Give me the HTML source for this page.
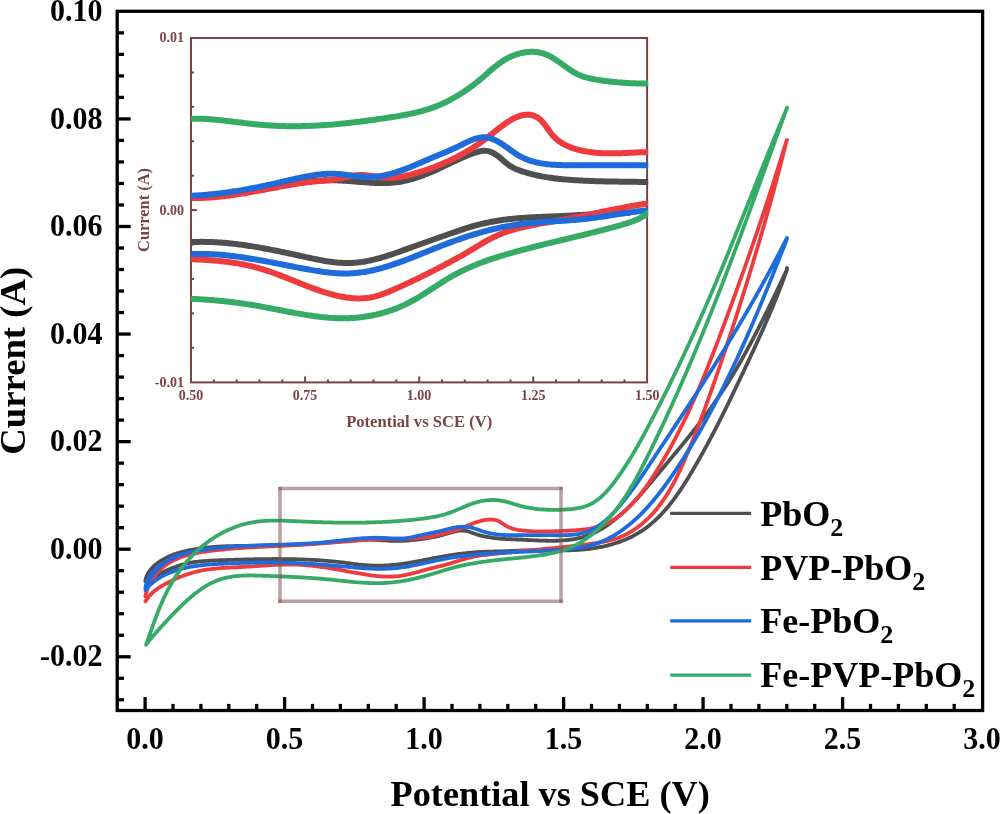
<!DOCTYPE html>
<html><head><meta charset="utf-8"><style>
html,body{margin:0;padding:0;background:#fff;width:1000px;height:814px;overflow:hidden}
svg{display:block;font-family:"Liberation Serif",serif;will-change:transform}
</style></head><body>
<svg width="1000" height="814" viewBox="0 0 1000 814">
<defs><clipPath id="ic"><rect x="191" y="37" width="457.2" height="346.4"/></clipPath></defs>
<rect width="1000" height="814" fill="#fff"/>
<path d="M145.40,580.50 L145.72,579.00 L146.13,577.56 L146.65,576.15 L147.26,574.80 L147.95,573.48 L148.72,572.21 L149.56,570.98 L150.47,569.79 L151.44,568.65 L152.47,567.54 L153.55,566.48 L154.68,565.45 L155.84,564.47 L157.04,563.52 L158.26,562.61 L159.51,561.74 L160.77,560.91 L162.05,560.11 L163.35,559.35 L164.66,558.62 L165.99,557.93 L167.34,557.26 L168.69,556.63 L170.06,556.03 L171.45,555.45 L172.84,554.90 L174.25,554.38 L175.66,553.89 L177.08,553.42 L178.52,552.97 L179.96,552.54 L181.40,552.14 L182.86,551.75 L184.32,551.39 L185.78,551.04 L187.25,550.71 L188.72,550.40 L190.19,550.10 L191.66,549.81 L193.14,549.54 L194.62,549.28 L196.10,549.03 L197.58,548.80 L199.06,548.58 L200.55,548.37 L202.03,548.17 L203.52,547.98 L205.01,547.80 L206.50,547.64 L207.99,547.48 L209.48,547.33 L210.98,547.20 L212.47,547.07 L213.97,546.95 L215.47,546.84 L216.96,546.73 L218.46,546.64 L219.96,546.55 L221.46,546.47 L222.97,546.40 L224.47,546.33 L225.97,546.27 L227.48,546.21 L228.98,546.16 L230.49,546.11 L231.99,546.07 L233.50,546.04 L235.01,546.01 L236.51,545.98 L238.02,545.95 L239.53,545.93 L241.04,545.91 L242.55,545.89 L244.05,545.88 L245.56,545.87 L247.07,545.85 L248.58,545.84 L250.09,545.83 L251.60,545.82 L253.11,545.81 L254.62,545.80 L256.13,545.79 L257.64,545.78 L259.14,545.77 L260.65,545.76 L262.16,545.74 L263.67,545.72 L265.17,545.70 L266.68,545.68 L268.19,545.65 L269.69,545.62 L271.20,545.59 L272.70,545.55 L274.21,545.51 L275.71,545.47 L277.21,545.43 L278.72,545.38 L280.22,545.33 L281.72,545.28 L283.22,545.22 L284.73,545.17 L286.23,545.11 L287.73,545.04 L289.23,544.98 L290.73,544.91 L292.23,544.84 L293.73,544.77 L295.23,544.70 L296.73,544.62 L298.23,544.54 L299.73,544.46 L301.23,544.37 L302.73,544.29 L304.23,544.20 L305.73,544.11 L307.23,544.02 L308.73,543.92 L310.22,543.83 L311.72,543.73 L313.22,543.63 L314.72,543.52 L316.22,543.42 L317.72,543.31 L319.22,543.20 L320.71,543.09 L322.21,542.98 L323.71,542.87 L325.21,542.75 L326.71,542.63 L328.21,542.51 L329.71,542.39 L331.21,542.27 L332.70,542.15 L334.20,542.02 L335.70,541.89 L337.20,541.76 L338.70,541.63 L340.20,541.50 L341.70,541.37 L343.20,541.23 L344.70,541.10 L346.20,540.97 L347.70,540.84 L349.20,540.71 L350.70,540.58 L352.21,540.46 L353.71,540.35 L355.21,540.24 L356.71,540.14 L358.21,540.05 L359.71,539.97 L361.21,539.89 L362.72,539.83 L364.22,539.78 L365.72,539.74 L367.22,539.72 L368.73,539.71 L370.23,539.71 L371.73,539.73 L373.23,539.77 L374.73,539.83 L376.24,539.89 L377.74,539.98 L379.24,540.07 L380.74,540.17 L382.25,540.27 L383.75,540.37 L385.25,540.47 L386.76,540.57 L388.26,540.66 L389.77,540.74 L391.27,540.81 L392.77,540.86 L394.28,540.90 L395.78,540.91 L397.29,540.91 L398.79,540.90 L400.30,540.86 L401.80,540.81 L403.31,540.75 L404.81,540.67 L406.31,540.58 L407.82,540.48 L409.32,540.36 L410.82,540.23 L412.31,540.09 L413.81,539.94 L415.30,539.78 L416.80,539.60 L418.29,539.42 L419.78,539.24 L421.27,539.04 L422.75,538.83 L424.23,538.62 L425.71,538.40 L427.19,538.17 L428.67,537.93 L430.14,537.68 L431.61,537.42 L433.09,537.14 L434.56,536.84 L436.03,536.53 L437.50,536.21 L438.96,535.86 L440.43,535.50 L441.90,535.11 L443.37,534.71 L444.84,534.29 L446.30,533.86 L447.77,533.43 L449.24,533.00 L450.71,532.59 L452.18,532.19 L453.66,531.82 L455.13,531.48 L456.61,531.17 L458.08,530.90 L459.56,530.68 L461.04,530.53 L462.52,530.48 L463.98,530.55 L465.44,530.76 L466.89,531.08 L468.34,531.51 L469.78,531.99 L471.21,532.51 L472.65,533.05 L474.09,533.57 L475.53,534.05 L476.97,534.51 L478.42,534.94 L479.87,535.34 L481.32,535.72 L482.77,536.06 L484.22,536.39 L485.68,536.69 L487.14,536.96 L488.61,537.22 L490.07,537.46 L491.54,537.67 L493.01,537.87 L494.48,538.05 L495.96,538.22 L497.43,538.37 L498.91,538.51 L500.39,538.63 L501.88,538.75 L503.36,538.85 L504.85,538.94 L506.34,539.03 L507.83,539.11 L509.33,539.18 L510.83,539.25 L512.33,539.31 L513.83,539.38 L515.33,539.44 L516.84,539.50 L518.35,539.56 L519.86,539.62 L521.37,539.69 L522.88,539.75 L524.40,539.83 L525.92,539.90 L527.43,539.98 L528.96,540.05 L530.48,540.13 L532.00,540.21 L533.52,540.28 L535.04,540.35 L536.57,540.42 L538.09,540.49 L539.61,540.55 L541.13,540.61 L542.65,540.66 L544.17,540.70 L545.69,540.74 L547.21,540.77 L548.72,540.79 L550.24,540.80 L551.75,540.80 L553.26,540.79 L554.76,540.77 L556.27,540.73 L557.77,540.68 L559.27,540.62 L560.76,540.55 L562.25,540.45 L563.74,540.35 L565.22,540.22 L566.70,540.08 L568.17,539.92 L569.64,539.74 L571.10,539.54 L572.56,539.32 L574.01,539.08 L575.46,538.82 L576.90,538.53 L578.34,538.22 L579.77,537.89 L581.19,537.53 L582.61,537.15 L584.02,536.74 L585.42,536.30 L586.81,535.84 L588.20,535.35 L589.58,534.83 L590.95,534.27 L592.31,533.69 L593.66,533.08 L595.01,532.44 L596.35,531.78 L597.67,531.08 L598.99,530.37 L600.30,529.63 L601.60,528.87 L602.89,528.08 L604.17,527.28 L605.44,526.46 L606.70,525.62 L607.95,524.76 L609.19,523.88 L610.41,522.99 L611.63,522.09 L612.83,521.17 L614.03,520.24 L615.21,519.30 L616.38,518.35 L617.54,517.39 L618.69,516.42 L619.83,515.44 L620.96,514.45 L622.08,513.45 L623.20,512.44 L624.30,511.42 L625.39,510.39 L626.48,509.35 L627.55,508.31 L628.62,507.26 L629.69,506.20 L630.74,505.13 L631.79,504.06 L632.83,502.97 L633.86,501.89 L634.89,500.79 L635.91,499.69 L636.93,498.59 L637.94,497.48 L638.94,496.36 L639.94,495.24 L640.94,494.12 L641.93,492.99 L642.92,491.86 L643.90,490.72 L644.89,489.58 L645.86,488.44 L646.84,487.29 L647.81,486.14 L648.78,484.99 L649.75,483.84 L650.72,482.69 L651.68,481.53 L652.65,480.38 L653.61,479.22 L654.57,478.06 L655.54,476.90 L656.50,475.74 L657.46,474.59 L658.42,473.43 L659.39,472.27 L660.35,471.12 L661.32,469.96 L662.28,468.80 L663.25,467.65 L664.21,466.49 L665.18,465.34 L666.14,464.18 L667.11,463.03 L668.07,461.87 L669.04,460.72 L670.00,459.56 L670.96,458.40 L671.93,457.25 L672.89,456.09 L673.85,454.94 L674.81,453.78 L675.77,452.62 L676.73,451.46 L677.69,450.31 L678.65,449.15 L679.61,447.99 L680.56,446.83 L681.52,445.66 L682.47,444.50 L683.42,443.34 L684.37,442.18 L685.32,441.01 L686.27,439.84 L687.21,438.68 L688.16,437.51 L689.10,436.34 L690.04,435.17 L690.98,434.00 L691.92,432.82 L692.85,431.65 L693.78,430.47 L694.71,429.29 L695.64,428.11 L696.57,426.93 L697.49,425.75 L698.41,424.57 L699.33,423.38 L700.25,422.19 L701.16,421.00 L702.07,419.81 L702.98,418.61 L703.88,417.42 L704.78,416.22 L705.68,415.02 L706.58,413.81 L707.47,412.61 L708.36,411.40 L709.25,410.19 L710.13,408.98 L711.01,407.76 L711.88,406.55 L712.75,405.33 L713.62,404.10 L714.49,402.88 L715.35,401.65 L716.20,400.42 L717.06,399.18 L717.91,397.94 L718.75,396.70 L719.59,395.46 L720.43,394.21 L721.26,392.97 L722.09,391.71 L722.91,390.46 L723.74,389.20 L724.55,387.94 L725.37,386.68 L726.18,385.41 L726.98,384.15 L727.79,382.88 L728.59,381.60 L729.38,380.33 L730.17,379.05 L730.96,377.77 L731.75,376.49 L732.53,375.20 L733.31,373.92 L734.08,372.63 L734.85,371.33 L735.62,370.04 L736.39,368.74 L737.15,367.45 L737.91,366.15 L738.67,364.84 L739.42,363.54 L740.17,362.23 L740.92,360.93 L741.66,359.62 L742.40,358.31 L743.14,356.99 L743.88,355.68 L744.61,354.36 L745.34,353.04 L746.07,351.72 L746.79,350.40 L747.51,349.08 L748.23,347.75 L748.95,346.43 L749.67,345.10 L750.38,343.77 L751.09,342.44 L751.80,341.11 L752.50,339.78 L753.20,338.44 L753.90,337.11 L754.60,335.77 L755.30,334.44 L755.99,333.10 L756.68,331.76 L757.37,330.42 L758.06,329.08 L758.75,327.73 L759.43,326.39 L760.11,325.05 L760.79,323.70 L761.47,322.36 L762.15,321.01 L762.82,319.66 L763.50,318.31 L764.17,316.97 L764.84,315.62 L765.50,314.27 L766.17,312.92 L766.84,311.57 L767.50,310.22 L768.16,308.87 L768.82,307.51 L769.48,306.16 L770.14,304.81 L770.80,303.46 L771.45,302.10 L772.10,300.75 L772.76,299.40 L773.41,298.05 L774.06,296.69 L774.71,295.34 L775.36,293.99 L776.01,292.64 L776.65,291.28 L777.30,289.93 L777.94,288.58 L778.59,287.23 L779.23,285.87 L779.87,284.52 L780.52,283.17 L781.16,281.82 L781.80,280.47 L782.44,279.12 L783.08,277.77 L783.72,276.42 L784.35,275.07 L784.99,273.73 L785.63,272.38 L786.27,271.03 L786.90,269.69 L787.00,268.00 L786.93,269.68 L786.44,271.07 L785.94,272.47 L785.45,273.87 L784.94,275.26 L784.44,276.66 L783.93,278.05 L783.42,279.45 L782.90,280.85 L782.38,282.24 L781.85,283.64 L781.32,285.03 L780.79,286.43 L780.26,287.82 L779.72,289.22 L779.17,290.61 L778.63,292.00 L778.08,293.40 L777.53,294.79 L776.97,296.18 L776.41,297.58 L775.85,298.97 L775.29,300.36 L774.72,301.75 L774.15,303.14 L773.58,304.53 L773.00,305.92 L772.42,307.31 L771.84,308.70 L771.26,310.09 L770.67,311.48 L770.08,312.87 L769.49,314.26 L768.90,315.64 L768.30,317.03 L767.71,318.42 L767.11,319.80 L766.50,321.19 L765.90,322.57 L765.29,323.96 L764.68,325.34 L764.07,326.73 L763.46,328.11 L762.85,329.49 L762.23,330.87 L761.62,332.25 L761.00,333.63 L760.38,335.01 L759.76,336.39 L759.13,337.77 L758.51,339.15 L757.88,340.52 L757.26,341.90 L756.63,343.28 L756.00,344.65 L755.37,346.02 L754.74,347.40 L754.11,348.77 L753.47,350.14 L752.84,351.51 L752.20,352.88 L751.57,354.25 L750.93,355.62 L750.30,356.99 L749.66,358.36 L749.02,359.72 L748.38,361.09 L747.75,362.45 L747.11,363.82 L746.47,365.18 L745.83,366.54 L745.19,367.90 L744.55,369.26 L743.91,370.62 L743.27,371.98 L742.63,373.34 L741.99,374.69 L741.35,376.05 L740.71,377.40 L740.07,378.75 L739.43,380.11 L738.79,381.46 L738.15,382.81 L737.51,384.16 L736.87,385.51 L736.23,386.86 L735.58,388.21 L734.94,389.55 L734.30,390.90 L733.65,392.24 L733.00,393.59 L732.36,394.93 L731.71,396.27 L731.06,397.62 L730.41,398.96 L729.76,400.30 L729.11,401.64 L728.46,402.98 L727.80,404.32 L727.15,405.66 L726.49,406.99 L725.83,408.33 L725.17,409.67 L724.51,411.00 L723.85,412.34 L723.19,413.67 L722.52,415.00 L721.86,416.34 L721.19,417.67 L720.52,419.00 L719.85,420.33 L719.17,421.66 L718.50,422.99 L717.82,424.32 L717.14,425.65 L716.46,426.98 L715.77,428.31 L715.09,429.63 L714.40,430.96 L713.71,432.29 L713.02,433.61 L712.32,434.94 L711.63,436.26 L710.93,437.59 L710.22,438.91 L709.52,440.24 L708.81,441.56 L708.10,442.88 L707.39,444.21 L706.68,445.53 L705.96,446.85 L705.24,448.17 L704.51,449.49 L703.79,450.82 L703.06,452.14 L702.33,453.46 L701.59,454.78 L700.85,456.10 L700.11,457.42 L699.37,458.73 L698.62,460.05 L697.87,461.37 L697.11,462.69 L696.35,464.01 L695.59,465.33 L694.83,466.65 L694.06,467.96 L693.29,469.28 L692.51,470.60 L691.73,471.91 L690.95,473.23 L690.16,474.55 L689.37,475.86 L688.57,477.17 L687.77,478.48 L686.96,479.79 L686.15,481.09 L685.34,482.39 L684.51,483.69 L683.69,484.98 L682.85,486.27 L682.01,487.56 L681.17,488.83 L680.32,490.11 L679.46,491.38 L678.59,492.64 L677.72,493.90 L676.84,495.14 L675.95,496.39 L675.06,497.62 L674.16,498.85 L673.25,500.07 L672.33,501.28 L671.41,502.48 L670.47,503.67 L669.53,504.85 L668.58,506.03 L667.62,507.19 L666.65,508.34 L665.67,509.48 L664.69,510.61 L663.69,511.73 L662.68,512.83 L661.66,513.93 L660.64,515.01 L659.60,516.08 L658.55,517.13 L657.49,518.17 L656.42,519.20 L655.34,520.21 L654.25,521.21 L653.15,522.19 L652.03,523.16 L650.91,524.11 L649.77,525.04 L648.62,525.96 L647.45,526.86 L646.28,527.75 L645.09,528.62 L643.89,529.46 L642.67,530.29 L641.45,531.11 L640.20,531.90 L638.95,532.67 L637.68,533.43 L636.41,534.17 L635.11,534.88 L633.81,535.58 L632.50,536.27 L631.17,536.93 L629.84,537.58 L628.49,538.20 L627.14,538.81 L625.77,539.41 L624.40,539.98 L623.02,540.54 L621.63,541.08 L620.23,541.60 L618.82,542.11 L617.40,542.60 L615.98,543.07 L614.55,543.53 L613.12,543.96 L611.68,544.39 L610.23,544.79 L608.78,545.18 L607.32,545.56 L605.86,545.91 L604.40,546.26 L602.93,546.58 L601.45,546.89 L599.98,547.19 L598.50,547.47 L597.01,547.73 L595.53,547.98 L594.04,548.21 L592.55,548.43 L591.06,548.64 L589.57,548.83 L588.08,549.00 L586.59,549.17 L585.09,549.32 L583.59,549.46 L582.10,549.58 L580.60,549.70 L579.10,549.81 L577.60,549.90 L576.10,549.99 L574.59,550.06 L573.09,550.13 L571.59,550.19 L570.08,550.24 L568.57,550.28 L567.07,550.32 L565.56,550.35 L564.05,550.37 L562.54,550.39 L561.04,550.40 L559.53,550.41 L558.02,550.41 L556.51,550.41 L555.00,550.41 L553.49,550.41 L551.98,550.40 L550.47,550.39 L548.96,550.38 L547.45,550.37 L545.94,550.35 L544.43,550.34 L542.92,550.33 L541.41,550.32 L539.90,550.31 L538.39,550.31 L536.88,550.30 L535.37,550.30 L533.86,550.30 L532.36,550.31 L530.85,550.32 L529.35,550.33 L527.84,550.35 L526.34,550.38 L524.83,550.41 L523.33,550.45 L521.83,550.49 L520.33,550.54 L518.83,550.60 L517.33,550.66 L515.83,550.72 L514.33,550.78 L512.83,550.85 L511.33,550.91 L509.83,550.98 L508.33,551.05 L506.83,551.11 L505.33,551.17 L503.83,551.24 L502.33,551.29 L500.83,551.35 L499.32,551.40 L497.82,551.44 L496.32,551.48 L494.81,551.51 L493.31,551.55 L491.80,551.58 L490.30,551.61 L488.79,551.65 L487.28,551.69 L485.78,551.74 L484.28,551.80 L482.77,551.86 L481.27,551.94 L479.77,552.02 L478.27,552.11 L476.77,552.21 L475.27,552.31 L473.77,552.43 L472.28,552.55 L470.78,552.68 L469.29,552.82 L467.79,552.96 L466.30,553.12 L464.80,553.28 L463.31,553.44 L461.82,553.62 L460.33,553.80 L458.84,553.99 L457.35,554.19 L455.86,554.39 L454.38,554.60 L452.89,554.81 L451.40,555.04 L449.92,555.27 L448.43,555.50 L446.95,555.75 L445.47,555.99 L443.98,556.25 L442.50,556.51 L441.02,556.78 L439.54,557.05 L438.06,557.32 L436.58,557.60 L435.10,557.89 L433.63,558.17 L432.15,558.46 L430.67,558.75 L429.19,559.04 L427.71,559.33 L426.24,559.62 L424.76,559.91 L423.28,560.20 L421.80,560.49 L420.32,560.77 L418.84,561.05 L417.36,561.33 L415.88,561.61 L414.40,561.88 L412.92,562.14 L411.44,562.40 L409.96,562.65 L408.47,562.90 L406.99,563.14 L405.50,563.37 L404.02,563.59 L402.53,563.81 L401.04,564.01 L399.55,564.21 L398.06,564.39 L396.57,564.56 L395.07,564.72 L393.58,564.87 L392.08,565.01 L390.58,565.13 L389.09,565.24 L387.59,565.34 L386.09,565.42 L384.58,565.49 L383.08,565.55 L381.58,565.60 L380.08,565.63 L378.58,565.64 L377.08,565.65 L375.58,565.64 L374.08,565.61 L372.58,565.57 L371.08,565.51 L369.58,565.44 L368.08,565.35 L366.58,565.25 L365.09,565.13 L363.59,565.00 L362.09,564.86 L360.60,564.71 L359.11,564.55 L357.61,564.37 L356.12,564.20 L354.63,564.01 L353.14,563.82 L351.64,563.63 L350.15,563.44 L348.66,563.24 L347.16,563.05 L345.67,562.85 L344.18,562.66 L342.68,562.47 L341.19,562.28 L339.69,562.11 L338.20,561.93 L336.70,561.77 L335.20,561.61 L333.70,561.45 L332.20,561.31 L330.70,561.16 L329.20,561.03 L327.70,560.90 L326.20,560.77 L324.70,560.65 L323.20,560.54 L321.70,560.43 L320.19,560.32 L318.69,560.22 L317.19,560.13 L315.68,560.04 L314.18,559.96 L312.68,559.88 L311.17,559.80 L309.67,559.73 L308.17,559.66 L306.66,559.60 L305.16,559.54 L303.66,559.48 L302.16,559.43 L300.65,559.38 L299.15,559.33 L297.65,559.29 L296.15,559.25 L294.65,559.22 L293.15,559.18 L291.64,559.15 L290.14,559.13 L288.64,559.10 L287.14,559.08 L285.64,559.07 L284.14,559.05 L282.64,559.04 L281.15,559.03 L279.65,559.02 L278.15,559.02 L276.65,559.02 L275.15,559.02 L273.65,559.02 L272.15,559.02 L270.65,559.03 L269.15,559.04 L267.65,559.05 L266.15,559.07 L264.65,559.08 L263.15,559.10 L261.65,559.12 L260.15,559.14 L258.65,559.17 L257.15,559.19 L255.65,559.22 L254.14,559.25 L252.64,559.28 L251.14,559.31 L249.64,559.35 L248.13,559.38 L246.63,559.42 L245.13,559.46 L243.62,559.50 L242.12,559.54 L240.61,559.58 L239.10,559.63 L237.60,559.67 L236.09,559.72 L234.58,559.76 L233.07,559.81 L231.56,559.86 L230.05,559.91 L228.54,559.96 L227.03,560.01 L225.52,560.06 L224.00,560.11 L222.49,560.16 L220.97,560.21 L219.46,560.27 L217.94,560.32 L216.43,560.38 L214.91,560.44 L213.39,560.51 L211.88,560.58 L210.36,560.65 L208.85,560.74 L207.34,560.83 L205.83,560.93 L204.32,561.04 L202.81,561.17 L201.31,561.30 L199.81,561.45 L198.32,561.61 L196.83,561.79 L195.34,561.99 L193.85,562.20 L192.38,562.43 L190.90,562.67 L189.43,562.94 L187.97,563.23 L186.51,563.54 L185.06,563.88 L183.62,564.24 L182.18,564.62 L180.75,565.03 L179.33,565.47 L177.92,565.93 L176.51,566.42 L175.11,566.93 L173.72,567.46 L172.33,568.01 L170.95,568.59 L169.57,569.18 L168.20,569.79 L166.84,570.41 L165.48,571.05 L164.12,571.70 L162.77,572.36 L161.43,573.04 L160.09,573.72 L158.75,574.41 L157.42,575.11 L156.09,575.81 L154.76,576.52 L153.43,577.23 L152.11,577.94 L150.79,578.64 L149.47,579.34 L148.14,580.03 L146.82,580.71 L145.30,581.00" fill="none" stroke="#4f4f4f" stroke-width="3.8" stroke-linejoin="round" stroke-linecap="round"/>
<path d="M145.40,596.50 L145.71,595.05 L146.03,593.58 L146.41,592.13 L146.84,590.68 L147.32,589.26 L147.84,587.85 L148.42,586.45 L149.04,585.08 L149.70,583.72 L150.40,582.38 L151.15,581.07 L151.94,579.78 L152.76,578.51 L153.63,577.26 L154.52,576.04 L155.46,574.85 L156.42,573.69 L157.42,572.55 L158.45,571.44 L159.51,570.37 L160.59,569.33 L161.71,568.32 L162.84,567.34 L164.01,566.40 L165.19,565.50 L166.39,564.63 L167.62,563.80 L168.86,563.00 L170.13,562.24 L171.41,561.51 L172.71,560.82 L174.02,560.16 L175.35,559.52 L176.70,558.92 L178.06,558.35 L179.44,557.80 L180.83,557.28 L182.23,556.78 L183.65,556.31 L185.07,555.87 L186.51,555.44 L187.96,555.04 L189.41,554.66 L190.88,554.29 L192.35,553.95 L193.83,553.62 L195.31,553.32 L196.81,553.02 L198.30,552.74 L199.81,552.48 L201.31,552.22 L202.82,551.98 L204.33,551.75 L205.84,551.53 L207.35,551.32 L208.87,551.11 L210.38,550.92 L211.89,550.72 L213.40,550.54 L214.91,550.36 L216.42,550.18 L217.93,550.01 L219.44,549.85 L220.95,549.69 L222.45,549.53 L223.96,549.38 L225.46,549.24 L226.97,549.10 L228.47,548.96 L229.98,548.83 L231.48,548.70 L232.98,548.58 L234.48,548.46 L235.98,548.34 L237.48,548.23 L238.98,548.12 L240.48,548.02 L241.98,547.91 L243.48,547.81 L244.98,547.72 L246.47,547.62 L247.97,547.53 L249.47,547.44 L250.96,547.36 L252.46,547.27 L253.96,547.19 L255.45,547.11 L256.95,547.03 L258.44,546.95 L259.94,546.87 L261.43,546.80 L262.93,546.73 L264.42,546.65 L265.92,546.58 L267.41,546.51 L268.91,546.44 L270.40,546.37 L271.90,546.30 L273.39,546.23 L274.89,546.16 L276.38,546.09 L277.87,546.02 L279.37,545.95 L280.86,545.88 L282.36,545.81 L283.86,545.74 L285.35,545.66 L286.85,545.59 L288.34,545.51 L289.84,545.44 L291.34,545.36 L292.83,545.28 L294.33,545.20 L295.83,545.11 L297.33,545.03 L298.82,544.94 L300.32,544.85 L301.82,544.76 L303.32,544.66 L304.82,544.57 L306.32,544.47 L307.82,544.37 L309.32,544.27 L310.82,544.16 L312.33,544.06 L313.83,543.95 L315.33,543.84 L316.83,543.73 L318.33,543.62 L319.83,543.51 L321.34,543.40 L322.84,543.28 L324.34,543.17 L325.84,543.05 L327.35,542.93 L328.85,542.82 L330.35,542.70 L331.85,542.58 L333.36,542.46 L334.86,542.34 L336.36,542.22 L337.86,542.10 L339.37,541.98 L340.87,541.86 L342.37,541.73 L343.87,541.61 L345.37,541.49 L346.87,541.37 L348.37,541.25 L349.87,541.13 L351.37,541.01 L352.87,540.89 L354.37,540.77 L355.87,540.66 L357.37,540.54 L358.87,540.42 L360.37,540.31 L361.86,540.19 L363.36,540.08 L364.86,539.97 L366.35,539.86 L367.85,539.75 L369.34,539.64 L370.84,539.54 L372.33,539.43 L373.83,539.34 L375.32,539.24 L376.82,539.16 L378.31,539.07 L379.81,538.99 L381.31,538.92 L382.80,538.85 L384.30,538.79 L385.80,538.74 L387.29,538.69 L388.79,538.65 L390.29,538.62 L391.79,538.60 L393.29,538.58 L394.79,538.58 L396.30,538.58 L397.80,538.59 L399.30,538.59 L400.81,538.60 L402.31,538.61 L403.82,538.62 L405.32,538.61 L406.82,538.61 L408.33,538.59 L409.83,538.56 L411.33,538.52 L412.83,538.46 L414.33,538.39 L415.83,538.30 L417.32,538.19 L418.82,538.07 L420.31,537.93 L421.80,537.78 L423.29,537.61 L424.78,537.43 L426.27,537.23 L427.75,537.01 L429.24,536.78 L430.72,536.53 L432.19,536.27 L433.67,535.99 L435.14,535.70 L436.61,535.40 L438.08,535.08 L439.55,534.74 L441.01,534.39 L442.47,534.03 L443.93,533.65 L445.38,533.26 L446.84,532.86 L448.28,532.44 L449.73,532.01 L451.17,531.56 L452.61,531.10 L454.04,530.63 L455.47,530.14 L456.90,529.64 L458.33,529.13 L459.75,528.61 L461.16,528.07 L462.57,527.52 L463.98,526.96 L465.39,526.40 L466.79,525.84 L468.20,525.27 L469.60,524.71 L471.01,524.17 L472.42,523.63 L473.83,523.11 L475.24,522.61 L476.66,522.14 L478.09,521.69 L479.52,521.27 L480.96,520.89 L482.40,520.55 L483.86,520.24 L485.32,519.99 L486.80,519.78 L488.28,519.62 L489.78,519.53 L491.27,519.51 L492.76,519.59 L494.22,519.76 L495.66,520.05 L497.06,520.48 L498.42,521.04 L499.74,521.74 L501.03,522.53 L502.30,523.38 L503.57,524.24 L504.85,525.09 L506.15,525.89 L507.48,526.61 L508.84,527.25 L510.23,527.82 L511.64,528.32 L513.07,528.76 L514.52,529.14 L515.98,529.47 L517.46,529.76 L518.94,530.01 L520.44,530.23 L521.93,530.42 L523.43,530.60 L524.93,530.76 L526.42,530.90 L527.92,531.02 L529.41,531.13 L530.91,531.22 L532.41,531.30 L533.90,531.37 L535.40,531.42 L536.89,531.47 L538.39,531.50 L539.89,531.52 L541.39,531.53 L542.89,531.53 L544.39,531.52 L545.89,531.50 L547.39,531.47 L548.89,531.44 L550.40,531.41 L551.91,531.36 L553.41,531.31 L554.92,531.26 L556.43,531.20 L557.95,531.14 L559.46,531.08 L560.98,531.01 L562.49,530.95 L564.02,530.88 L565.54,530.82 L567.06,530.75 L568.59,530.67 L570.11,530.60 L571.64,530.51 L573.16,530.42 L574.68,530.33 L576.20,530.22 L577.72,530.10 L579.23,529.97 L580.75,529.82 L582.25,529.66 L583.75,529.49 L585.25,529.30 L586.74,529.08 L588.22,528.85 L589.70,528.60 L591.16,528.32 L592.62,528.02 L594.07,527.70 L595.51,527.35 L596.95,526.97 L598.36,526.56 L599.77,526.12 L601.17,525.65 L602.55,525.15 L603.92,524.62 L605.28,524.04 L606.63,523.44 L607.95,522.79 L609.27,522.12 L610.57,521.41 L611.86,520.67 L613.13,519.90 L614.39,519.11 L615.64,518.28 L616.87,517.43 L618.08,516.56 L619.29,515.66 L620.47,514.73 L621.65,513.79 L622.81,512.83 L623.96,511.84 L625.09,510.84 L626.21,509.82 L627.31,508.79 L628.40,507.74 L629.47,506.67 L630.54,505.60 L631.58,504.51 L632.62,503.41 L633.64,502.30 L634.64,501.18 L635.64,500.06 L636.62,498.92 L637.59,497.77 L638.55,496.61 L639.50,495.44 L640.44,494.27 L641.37,493.08 L642.28,491.89 L643.19,490.69 L644.09,489.49 L644.98,488.28 L645.86,487.06 L646.73,485.83 L647.60,484.60 L648.46,483.37 L649.31,482.13 L650.15,480.88 L650.99,479.63 L651.82,478.38 L652.65,477.12 L653.47,475.86 L654.28,474.60 L655.09,473.34 L655.90,472.07 L656.70,470.80 L657.50,469.53 L658.29,468.25 L659.08,466.97 L659.87,465.69 L660.65,464.41 L661.42,463.12 L662.20,461.84 L662.96,460.55 L663.73,459.26 L664.48,457.96 L665.24,456.67 L665.99,455.37 L666.74,454.07 L667.48,452.76 L668.22,451.46 L668.95,450.15 L669.68,448.84 L670.41,447.53 L671.13,446.21 L671.85,444.90 L672.57,443.58 L673.28,442.26 L673.99,440.94 L674.69,439.61 L675.39,438.29 L676.09,436.96 L676.78,435.63 L677.47,434.30 L678.16,432.96 L678.84,431.63 L679.52,430.29 L680.20,428.95 L680.87,427.61 L681.54,426.27 L682.21,424.92 L682.87,423.58 L683.53,422.23 L684.19,420.88 L684.84,419.53 L685.49,418.17 L686.14,416.82 L686.79,415.46 L687.43,414.11 L688.07,412.75 L688.70,411.39 L689.33,410.02 L689.96,408.66 L690.59,407.30 L691.21,405.93 L691.84,404.56 L692.46,403.19 L693.07,401.82 L693.68,400.45 L694.30,399.07 L694.90,397.70 L695.51,396.32 L696.11,394.95 L696.71,393.57 L697.31,392.19 L697.91,390.81 L698.50,389.42 L699.09,388.04 L699.68,386.66 L700.27,385.27 L700.86,383.89 L701.44,382.50 L702.02,381.11 L702.60,379.72 L703.17,378.33 L703.75,376.94 L704.32,375.54 L704.89,374.15 L705.46,372.76 L706.02,371.36 L706.59,369.97 L707.15,368.57 L707.71,367.17 L708.27,365.77 L708.83,364.37 L709.39,362.97 L709.94,361.57 L710.49,360.17 L711.05,358.77 L711.59,357.36 L712.14,355.96 L712.69,354.56 L713.24,353.15 L713.78,351.75 L714.32,350.34 L714.86,348.94 L715.40,347.53 L715.94,346.12 L716.48,344.71 L717.02,343.31 L717.55,341.90 L718.09,340.49 L718.62,339.08 L719.15,337.67 L719.68,336.26 L720.21,334.85 L720.74,333.44 L721.27,332.03 L721.80,330.62 L722.32,329.20 L722.85,327.79 L723.38,326.38 L723.90,324.97 L724.42,323.56 L724.95,322.15 L725.47,320.73 L725.99,319.32 L726.51,317.91 L727.04,316.50 L727.56,315.08 L728.08,313.67 L728.60,312.26 L729.11,310.85 L729.63,309.44 L730.15,308.02 L730.67,306.61 L731.18,305.20 L731.70,303.78 L732.22,302.37 L732.73,300.96 L733.24,299.55 L733.76,298.13 L734.27,296.72 L734.78,295.31 L735.30,293.89 L735.81,292.48 L736.32,291.06 L736.83,289.65 L737.34,288.24 L737.85,286.82 L738.36,285.41 L738.87,283.99 L739.37,282.58 L739.88,281.17 L740.39,279.75 L740.89,278.34 L741.40,276.92 L741.90,275.51 L742.40,274.09 L742.91,272.67 L743.41,271.26 L743.91,269.84 L744.41,268.43 L744.91,267.01 L745.41,265.60 L745.91,264.18 L746.41,262.76 L746.91,261.35 L747.41,259.93 L747.91,258.51 L748.40,257.09 L748.90,255.68 L749.39,254.26 L749.89,252.84 L750.38,251.42 L750.87,250.00 L751.37,248.58 L751.86,247.17 L752.35,245.75 L752.84,244.33 L753.33,242.91 L753.82,241.49 L754.31,240.07 L754.80,238.65 L755.29,237.23 L755.77,235.81 L756.26,234.39 L756.74,232.96 L757.23,231.54 L757.71,230.12 L758.20,228.70 L758.68,227.28 L759.16,225.85 L759.64,224.43 L760.12,223.01 L760.60,221.59 L761.08,220.16 L761.56,218.74 L762.04,217.31 L762.52,215.89 L762.99,214.46 L763.47,213.04 L763.94,211.61 L764.42,210.19 L764.89,208.76 L765.36,207.34 L765.84,205.91 L766.31,204.48 L766.78,203.05 L767.25,201.63 L767.72,200.20 L768.19,198.77 L768.66,197.34 L769.12,195.91 L769.59,194.48 L770.06,193.05 L770.52,191.62 L770.99,190.19 L771.45,188.76 L771.91,187.33 L772.38,185.90 L772.84,184.47 L773.30,183.04 L773.76,181.60 L774.22,180.17 L774.68,178.74 L775.13,177.30 L775.59,175.87 L776.05,174.44 L776.50,173.00 L776.96,171.57 L777.41,170.13 L777.87,168.69 L778.32,167.26 L778.77,165.82 L779.22,164.38 L779.67,162.95 L780.12,161.51 L780.57,160.07 L781.02,158.63 L781.47,157.19 L781.91,155.75 L782.36,154.31 L782.80,152.87 L783.25,151.43 L783.69,149.99 L784.13,148.54 L784.57,147.10 L785.02,145.66 L785.46,144.22 L785.90,142.77 L786.33,141.33 L787.00,140.00 L786.43,141.38 L786.07,142.85 L785.71,144.31 L785.34,145.77 L784.98,147.24 L784.62,148.70 L784.25,150.16 L783.88,151.62 L783.52,153.08 L783.15,154.54 L782.78,156.01 L782.41,157.47 L782.03,158.92 L781.66,160.38 L781.29,161.84 L780.91,163.30 L780.54,164.76 L780.16,166.22 L779.78,167.67 L779.40,169.13 L779.02,170.59 L778.64,172.04 L778.26,173.50 L777.88,174.95 L777.49,176.41 L777.11,177.86 L776.72,179.32 L776.33,180.77 L775.95,182.23 L775.56,183.68 L775.17,185.13 L774.78,186.58 L774.39,188.04 L773.99,189.49 L773.60,190.94 L773.21,192.39 L772.81,193.84 L772.41,195.29 L772.02,196.74 L771.62,198.19 L771.22,199.64 L770.82,201.09 L770.42,202.54 L770.02,203.99 L769.61,205.43 L769.21,206.88 L768.81,208.33 L768.40,209.78 L767.99,211.22 L767.59,212.67 L767.18,214.12 L766.77,215.56 L766.36,217.01 L765.95,218.45 L765.54,219.90 L765.13,221.34 L764.71,222.79 L764.30,224.23 L763.89,225.68 L763.47,227.12 L763.05,228.56 L762.64,230.01 L762.22,231.45 L761.80,232.89 L761.38,234.34 L760.96,235.78 L760.54,237.22 L760.12,238.66 L759.70,240.10 L759.27,241.55 L758.85,242.99 L758.42,244.43 L758.00,245.87 L757.57,247.31 L757.14,248.75 L756.71,250.19 L756.29,251.63 L755.86,253.07 L755.43,254.51 L754.99,255.95 L754.56,257.39 L754.13,258.83 L753.70,260.26 L753.26,261.70 L752.83,263.14 L752.39,264.58 L751.96,266.02 L751.52,267.46 L751.08,268.89 L750.64,270.33 L750.20,271.77 L749.77,273.21 L749.32,274.64 L748.88,276.08 L748.44,277.52 L748.00,278.95 L747.56,280.39 L747.11,281.83 L746.67,283.26 L746.22,284.70 L745.78,286.14 L745.33,287.57 L744.89,289.01 L744.44,290.44 L743.99,291.88 L743.54,293.31 L743.09,294.75 L742.64,296.18 L742.19,297.62 L741.74,299.06 L741.29,300.49 L740.83,301.93 L740.38,303.36 L739.93,304.79 L739.47,306.23 L739.02,307.66 L738.56,309.10 L738.11,310.53 L737.65,311.97 L737.19,313.40 L736.74,314.84 L736.28,316.27 L735.82,317.70 L735.36,319.14 L734.90,320.57 L734.44,322.00 L733.98,323.44 L733.51,324.87 L733.05,326.30 L732.59,327.73 L732.12,329.17 L731.66,330.60 L731.19,332.03 L730.72,333.46 L730.26,334.89 L729.79,336.32 L729.32,337.76 L728.85,339.19 L728.38,340.62 L727.91,342.05 L727.44,343.47 L726.96,344.90 L726.49,346.33 L726.02,347.76 L725.54,349.19 L725.07,350.62 L724.59,352.04 L724.11,353.47 L723.64,354.90 L723.16,356.32 L722.68,357.75 L722.20,359.18 L721.72,360.60 L721.23,362.02 L720.75,363.45 L720.27,364.87 L719.78,366.30 L719.30,367.72 L718.81,369.14 L718.32,370.56 L717.84,371.98 L717.35,373.40 L716.86,374.82 L716.37,376.24 L715.87,377.66 L715.38,379.08 L714.89,380.50 L714.39,381.92 L713.90,383.33 L713.40,384.75 L712.90,386.16 L712.41,387.58 L711.91,388.99 L711.41,390.41 L710.91,391.82 L710.40,393.23 L709.90,394.64 L709.40,396.05 L708.89,397.47 L708.39,398.88 L707.88,400.28 L707.37,401.69 L706.86,403.10 L706.35,404.51 L705.84,405.91 L705.33,407.32 L704.81,408.72 L704.30,410.13 L703.78,411.53 L703.26,412.93 L702.75,414.34 L702.22,415.74 L701.70,417.14 L701.18,418.54 L700.65,419.94 L700.12,421.34 L699.60,422.73 L699.07,424.13 L698.53,425.53 L698.00,426.92 L697.46,428.32 L696.92,429.71 L696.38,431.11 L695.84,432.50 L695.29,433.89 L694.75,435.29 L694.20,436.68 L693.65,438.07 L693.09,439.46 L692.54,440.85 L691.98,442.24 L691.42,443.63 L690.86,445.01 L690.29,446.40 L689.72,447.79 L689.15,449.17 L688.58,450.56 L688.00,451.94 L687.42,453.32 L686.84,454.71 L686.25,456.09 L685.66,457.47 L685.07,458.85 L684.48,460.23 L683.88,461.61 L683.28,462.98 L682.67,464.36 L682.05,465.73 L681.44,467.10 L680.81,468.47 L680.18,469.83 L679.55,471.19 L678.91,472.55 L678.26,473.90 L677.60,475.25 L676.94,476.60 L676.27,477.94 L675.59,479.28 L674.91,480.61 L674.21,481.94 L673.51,483.26 L672.80,484.58 L672.08,485.89 L671.35,487.20 L670.61,488.50 L669.86,489.79 L669.09,491.08 L668.32,492.36 L667.54,493.63 L666.75,494.90 L665.94,496.16 L665.13,497.41 L664.30,498.66 L663.45,499.89 L662.60,501.12 L661.73,502.34 L660.85,503.55 L659.96,504.75 L659.05,505.94 L658.13,507.13 L657.19,508.30 L656.24,509.46 L655.27,510.61 L654.29,511.76 L653.30,512.89 L652.29,514.00 L651.26,515.11 L650.22,516.20 L649.16,517.28 L648.09,518.34 L647.00,519.39 L645.90,520.42 L644.78,521.44 L643.64,522.44 L642.49,523.42 L641.33,524.39 L640.14,525.33 L638.94,526.26 L637.73,527.17 L636.50,528.05 L635.26,528.92 L634.00,529.76 L632.73,530.59 L631.45,531.38 L630.15,532.16 L628.84,532.91 L627.52,533.63 L626.18,534.33 L624.83,535.00 L623.48,535.65 L622.11,536.26 L620.73,536.85 L619.34,537.41 L617.93,537.93 L616.52,538.43 L615.10,538.90 L613.67,539.34 L612.24,539.75 L610.79,540.14 L609.34,540.51 L607.88,540.86 L606.42,541.18 L604.95,541.49 L603.48,541.78 L602.00,542.06 L600.52,542.32 L599.03,542.58 L597.55,542.82 L596.06,543.05 L594.57,543.28 L593.08,543.50 L591.59,543.72 L590.10,543.93 L588.61,544.14 L587.12,544.34 L585.62,544.54 L584.13,544.73 L582.64,544.92 L581.15,545.11 L579.65,545.30 L578.16,545.48 L576.67,545.66 L575.17,545.83 L573.68,546.00 L572.18,546.17 L570.69,546.34 L569.19,546.50 L567.70,546.66 L566.20,546.82 L564.71,546.98 L563.21,547.13 L561.71,547.28 L560.22,547.43 L558.72,547.58 L557.23,547.73 L555.73,547.88 L554.23,548.02 L552.74,548.17 L551.24,548.31 L549.74,548.45 L548.24,548.59 L546.75,548.73 L545.25,548.87 L543.75,549.01 L542.26,549.15 L540.76,549.29 L539.26,549.43 L537.76,549.57 L536.27,549.71 L534.77,549.85 L533.27,549.99 L531.77,550.14 L530.28,550.28 L528.78,550.42 L527.28,550.57 L525.78,550.72 L524.29,550.86 L522.79,551.01 L521.29,551.17 L519.80,551.32 L518.30,551.47 L516.80,551.62 L515.31,551.78 L513.81,551.93 L512.31,552.09 L510.82,552.24 L509.32,552.40 L507.82,552.55 L506.33,552.70 L504.83,552.86 L503.33,553.01 L501.84,553.16 L500.34,553.31 L498.84,553.46 L497.35,553.60 L495.85,553.75 L494.35,553.89 L492.85,554.04 L491.36,554.19 L489.86,554.35 L488.37,554.51 L486.88,554.67 L485.38,554.85 L483.89,555.03 L482.41,555.23 L480.92,555.44 L479.44,555.66 L477.96,555.90 L476.48,556.16 L475.01,556.43 L473.53,556.73 L472.07,557.04 L470.60,557.38 L469.14,557.74 L467.69,558.12 L466.23,558.51 L464.78,558.93 L463.34,559.35 L461.89,559.79 L460.45,560.23 L459.01,560.69 L457.57,561.14 L456.13,561.60 L454.69,562.06 L453.25,562.51 L451.81,562.96 L450.38,563.41 L448.94,563.84 L447.50,564.27 L446.06,564.68 L444.62,565.07 L443.17,565.45 L441.73,565.81 L440.29,566.16 L438.84,566.51 L437.39,566.85 L435.94,567.20 L434.49,567.54 L433.03,567.89 L431.58,568.24 L430.12,568.60 L428.66,568.98 L427.20,569.37 L425.74,569.76 L424.28,570.17 L422.81,570.57 L421.35,570.98 L419.88,571.39 L418.41,571.80 L416.94,572.21 L415.47,572.61 L413.99,573.00 L412.52,573.38 L411.05,573.75 L409.57,574.10 L408.09,574.44 L406.61,574.76 L405.14,575.06 L403.66,575.34 L402.17,575.59 L400.69,575.81 L399.21,576.01 L397.73,576.18 L396.25,576.32 L394.76,576.44 L393.28,576.52 L391.79,576.59 L390.31,576.62 L388.82,576.64 L387.33,576.63 L385.85,576.60 L384.36,576.55 L382.87,576.48 L381.39,576.40 L379.90,576.29 L378.41,576.17 L376.92,576.03 L375.43,575.87 L373.94,575.71 L372.46,575.52 L370.97,575.33 L369.48,575.13 L367.99,574.91 L366.50,574.68 L365.01,574.45 L363.52,574.21 L362.03,573.96 L360.54,573.70 L359.06,573.44 L357.57,573.18 L356.08,572.91 L354.59,572.64 L353.10,572.37 L351.62,572.10 L350.13,571.83 L348.64,571.56 L347.16,571.29 L345.67,571.01 L344.18,570.74 L342.70,570.47 L341.21,570.21 L339.72,569.94 L338.24,569.68 L336.75,569.42 L335.27,569.16 L333.78,568.90 L332.29,568.65 L330.81,568.41 L329.32,568.16 L327.83,567.93 L326.35,567.69 L324.86,567.47 L323.37,567.24 L321.88,567.03 L320.40,566.82 L318.91,566.62 L317.42,566.42 L315.93,566.24 L314.44,566.06 L312.95,565.89 L311.46,565.73 L309.97,565.57 L308.48,565.43 L306.99,565.30 L305.50,565.17 L304.00,565.06 L302.51,564.96 L301.02,564.86 L299.52,564.78 L298.03,564.72 L296.53,564.66 L295.03,564.61 L293.54,564.58 L292.04,564.56 L290.54,564.55 L289.04,564.54 L287.54,564.55 L286.04,564.57 L284.54,564.59 L283.04,564.63 L281.53,564.67 L280.03,564.71 L278.53,564.77 L277.03,564.83 L275.52,564.90 L274.02,564.97 L272.51,565.04 L271.01,565.13 L269.50,565.21 L268.00,565.30 L266.49,565.39 L264.98,565.49 L263.48,565.58 L261.97,565.68 L260.46,565.78 L258.96,565.89 L257.45,565.99 L255.94,566.09 L254.43,566.19 L252.93,566.29 L251.42,566.39 L249.91,566.48 L248.40,566.58 L246.90,566.67 L245.39,566.76 L243.88,566.84 L242.37,566.93 L240.86,567.00 L239.36,567.08 L237.85,567.15 L236.34,567.23 L234.84,567.30 L233.33,567.37 L231.83,567.45 L230.32,567.53 L228.82,567.61 L227.32,567.69 L225.82,567.78 L224.32,567.87 L222.82,567.97 L221.32,568.08 L219.82,568.20 L218.33,568.32 L216.84,568.45 L215.35,568.60 L213.86,568.75 L212.37,568.92 L210.89,569.09 L209.41,569.29 L207.93,569.49 L206.45,569.71 L204.97,569.95 L203.50,570.20 L202.03,570.47 L200.56,570.76 L199.10,571.06 L197.64,571.39 L196.18,571.73 L194.73,572.10 L193.28,572.48 L191.83,572.89 L190.39,573.31 L188.95,573.76 L187.52,574.22 L186.09,574.70 L184.67,575.20 L183.25,575.71 L181.84,576.25 L180.44,576.80 L179.04,577.37 L177.65,577.96 L176.27,578.56 L174.90,579.18 L173.53,579.82 L172.18,580.48 L170.82,581.14 L169.48,581.82 L168.14,582.51 L166.81,583.21 L165.49,583.92 L164.18,584.64 L162.88,585.37 L161.59,586.13 L160.32,586.90 L159.06,587.70 L157.83,588.52 L156.62,589.37 L155.44,590.25 L154.28,591.16 L153.16,592.12 L152.06,593.11 L151.00,594.15 L149.98,595.23 L149.00,596.37 L148.06,597.55 L147.17,598.79 L146.32,600.09 L145.40,601.30" fill="none" stroke="#ee3c3e" stroke-width="3.8" stroke-linejoin="round" stroke-linecap="round"/>
<path d="M145.50,590.00 L145.62,588.45 L146.01,587.02 L146.47,585.62 L147.00,584.24 L147.59,582.89 L148.25,581.57 L148.96,580.27 L149.72,579.00 L150.53,577.74 L151.38,576.51 L152.26,575.29 L153.18,574.10 L154.14,572.93 L155.13,571.77 L156.14,570.64 L157.19,569.52 L158.25,568.43 L159.35,567.36 L160.46,566.31 L161.59,565.28 L162.75,564.28 L163.92,563.31 L165.12,562.37 L166.34,561.46 L167.58,560.60 L168.84,559.77 L170.13,558.99 L171.43,558.26 L172.76,557.58 L174.11,556.95 L175.48,556.36 L176.87,555.82 L178.27,555.31 L179.69,554.84 L181.12,554.40 L182.56,554.00 L184.01,553.61 L185.47,553.26 L186.93,552.92 L188.40,552.59 L189.88,552.28 L191.35,551.98 L192.83,551.69 L194.30,551.41 L195.78,551.14 L197.26,550.87 L198.74,550.62 L200.22,550.37 L201.70,550.13 L203.19,549.90 L204.67,549.67 L206.15,549.46 L207.64,549.25 L209.13,549.05 L210.61,548.85 L212.10,548.66 L213.59,548.48 L215.08,548.31 L216.57,548.14 L218.06,547.98 L219.55,547.82 L221.04,547.67 L222.54,547.53 L224.03,547.39 L225.53,547.26 L227.02,547.13 L228.52,547.01 L230.01,546.89 L231.51,546.78 L233.01,546.67 L234.51,546.57 L236.00,546.47 L237.50,546.37 L239.00,546.28 L240.50,546.19 L242.00,546.11 L243.50,546.03 L245.01,545.95 L246.51,545.88 L248.01,545.81 L249.51,545.74 L251.02,545.67 L252.52,545.61 L254.02,545.55 L255.53,545.49 L257.03,545.43 L258.54,545.38 L260.04,545.32 L261.54,545.27 L263.05,545.22 L264.56,545.17 L266.06,545.12 L267.57,545.08 L269.07,545.03 L270.58,544.98 L272.08,544.94 L273.59,544.89 L275.10,544.84 L276.60,544.80 L278.11,544.75 L279.61,544.70 L281.12,544.66 L282.63,544.61 L284.13,544.56 L285.64,544.51 L287.14,544.46 L288.65,544.40 L290.16,544.35 L291.66,544.29 L293.17,544.23 L294.67,544.17 L296.18,544.11 L297.68,544.04 L299.19,543.97 L300.69,543.90 L302.19,543.83 L303.70,543.75 L305.20,543.67 L306.71,543.59 L308.21,543.50 L309.71,543.41 L311.21,543.31 L312.71,543.21 L314.22,543.11 L315.72,543.00 L317.22,542.89 L318.72,542.77 L320.22,542.65 L321.71,542.52 L323.21,542.39 L324.71,542.25 L326.21,542.10 L327.70,541.95 L329.20,541.80 L330.70,541.64 L332.19,541.48 L333.69,541.31 L335.18,541.14 L336.68,540.97 L338.17,540.80 L339.66,540.62 L341.16,540.45 L342.65,540.27 L344.14,540.10 L345.64,539.93 L347.13,539.76 L348.62,539.59 L350.11,539.43 L351.61,539.27 L353.10,539.12 L354.60,538.97 L356.09,538.82 L357.58,538.69 L359.08,538.56 L360.57,538.44 L362.07,538.32 L363.56,538.22 L365.06,538.12 L366.56,538.04 L368.05,537.96 L369.55,537.90 L371.05,537.85 L372.55,537.81 L374.05,537.78 L375.55,537.77 L377.05,537.77 L378.55,537.79 L380.06,537.82 L381.56,537.87 L383.07,537.94 L384.58,538.02 L386.08,538.12 L387.59,538.22 L389.10,538.33 L390.61,538.43 L392.11,538.53 L393.62,538.61 L395.13,538.68 L396.63,538.73 L398.13,538.76 L399.63,538.75 L401.13,538.71 L402.63,538.63 L404.12,538.50 L405.61,538.33 L407.10,538.13 L408.59,537.90 L410.07,537.64 L411.55,537.35 L413.03,537.05 L414.51,536.73 L415.99,536.39 L417.46,536.05 L418.94,535.71 L420.41,535.37 L421.88,535.04 L423.35,534.71 L424.82,534.39 L426.29,534.08 L427.75,533.77 L429.22,533.47 L430.69,533.17 L432.16,532.86 L433.62,532.55 L435.09,532.24 L436.56,531.92 L438.03,531.59 L439.49,531.25 L440.96,530.90 L442.44,530.53 L443.91,530.15 L445.38,529.76 L446.85,529.37 L448.33,528.98 L449.80,528.61 L451.28,528.26 L452.76,527.93 L454.24,527.63 L455.71,527.38 L457.19,527.16 L458.67,526.99 L460.15,526.86 L461.63,526.78 L463.10,526.76 L464.57,526.78 L466.04,526.86 L467.50,526.99 L468.96,527.19 L470.41,527.44 L471.85,527.75 L473.29,528.13 L474.72,528.55 L476.15,529.00 L477.58,529.48 L479.01,529.98 L480.44,530.48 L481.87,530.98 L483.30,531.46 L484.75,531.91 L486.20,532.33 L487.65,532.71 L489.12,533.06 L490.59,533.37 L492.06,533.66 L493.54,533.91 L495.03,534.14 L496.52,534.34 L498.01,534.52 L499.51,534.68 L501.01,534.81 L502.51,534.92 L504.02,535.02 L505.53,535.09 L507.04,535.15 L508.55,535.20 L510.06,535.23 L511.57,535.26 L513.08,535.27 L514.59,535.27 L516.10,535.27 L517.61,535.27 L519.11,535.25 L520.61,535.24 L522.11,535.23 L523.61,535.21 L525.11,535.20 L526.60,535.19 L528.09,535.17 L529.58,535.16 L531.07,535.15 L532.56,535.14 L534.05,535.13 L535.54,535.12 L537.03,535.12 L538.52,535.11 L540.01,535.11 L541.51,535.11 L543.01,535.11 L544.51,535.12 L546.02,535.12 L547.53,535.13 L549.04,535.15 L550.56,535.16 L552.08,535.18 L553.61,535.20 L555.14,535.21 L556.68,535.23 L558.21,535.23 L559.74,535.24 L561.28,535.23 L562.81,535.21 L564.34,535.18 L565.87,535.14 L567.39,535.08 L568.91,535.00 L570.43,534.90 L571.93,534.78 L573.43,534.64 L574.92,534.47 L576.41,534.28 L577.88,534.05 L579.34,533.80 L580.79,533.51 L582.23,533.19 L583.65,532.83 L585.06,532.44 L586.46,532.00 L587.84,531.52 L589.20,531.00 L590.54,530.44 L591.87,529.83 L593.18,529.17 L594.47,528.47 L595.74,527.73 L597.00,526.95 L598.24,526.14 L599.46,525.29 L600.67,524.41 L601.86,523.50 L603.03,522.57 L604.19,521.61 L605.34,520.63 L606.47,519.63 L607.59,518.62 L608.69,517.59 L609.78,516.54 L610.86,515.49 L611.92,514.42 L612.98,513.34 L614.02,512.24 L615.05,511.14 L616.06,510.02 L617.07,508.90 L618.07,507.77 L619.06,506.63 L620.04,505.48 L621.01,504.32 L621.97,503.15 L622.92,501.98 L623.86,500.80 L624.80,499.62 L625.73,498.43 L626.65,497.23 L627.57,496.03 L628.48,494.83 L629.38,493.63 L630.28,492.42 L631.18,491.20 L632.06,489.99 L632.95,488.77 L633.83,487.55 L634.70,486.33 L635.57,485.10 L636.44,483.88 L637.30,482.65 L638.16,481.41 L639.01,480.18 L639.86,478.94 L640.71,477.71 L641.55,476.47 L642.40,475.22 L643.24,473.98 L644.07,472.74 L644.91,471.49 L645.74,470.24 L646.57,469.00 L647.40,467.75 L648.23,466.50 L649.06,465.25 L649.89,464.00 L650.71,462.74 L651.54,461.49 L652.36,460.24 L653.19,458.99 L654.01,457.73 L654.83,456.48 L655.66,455.23 L656.49,453.97 L657.31,452.72 L658.14,451.47 L658.97,450.21 L659.79,448.96 L660.62,447.71 L661.45,446.46 L662.28,445.21 L663.11,443.95 L663.94,442.70 L664.77,441.45 L665.60,440.20 L666.43,438.94 L667.26,437.69 L668.10,436.44 L668.93,435.19 L669.76,433.94 L670.59,432.68 L671.42,431.43 L672.26,430.18 L673.09,428.93 L673.92,427.67 L674.75,426.42 L675.58,425.17 L676.41,423.92 L677.25,422.66 L678.08,421.41 L678.91,420.16 L679.74,418.90 L680.57,417.65 L681.40,416.39 L682.23,415.14 L683.06,413.88 L683.89,412.63 L684.72,411.37 L685.55,410.12 L686.37,408.86 L687.20,407.60 L688.03,406.35 L688.85,405.09 L689.68,403.83 L690.50,402.58 L691.33,401.32 L692.15,400.06 L692.98,398.80 L693.80,397.54 L694.62,396.28 L695.44,395.02 L696.26,393.76 L697.08,392.50 L697.90,391.23 L698.71,389.97 L699.53,388.71 L700.35,387.45 L701.16,386.18 L701.97,384.92 L702.79,383.65 L703.60,382.39 L704.41,381.12 L705.22,379.85 L706.03,378.59 L706.84,377.32 L707.65,376.05 L708.46,374.78 L709.26,373.51 L710.07,372.25 L710.87,370.98 L711.68,369.70 L712.48,368.43 L713.28,367.16 L714.08,365.89 L714.88,364.62 L715.68,363.34 L716.48,362.07 L717.28,360.80 L718.07,359.52 L718.87,358.25 L719.66,356.97 L720.46,355.69 L721.25,354.42 L722.04,353.14 L722.83,351.86 L723.62,350.58 L724.41,349.30 L725.19,348.02 L725.98,346.74 L726.77,345.46 L727.55,344.18 L728.33,342.89 L729.11,341.61 L729.90,340.33 L730.67,339.04 L731.45,337.76 L732.23,336.47 L733.01,335.19 L733.78,333.90 L734.56,332.61 L735.33,331.32 L736.10,330.03 L736.87,328.74 L737.64,327.45 L738.41,326.16 L739.18,324.87 L739.95,323.58 L740.71,322.29 L741.47,320.99 L742.24,319.70 L743.00,318.40 L743.76,317.11 L744.52,315.81 L745.28,314.51 L746.03,313.22 L746.79,311.92 L747.54,310.62 L748.30,309.32 L749.05,308.02 L749.80,306.72 L750.55,305.42 L751.29,304.11 L752.04,302.81 L752.79,301.50 L753.53,300.20 L754.27,298.89 L755.01,297.59 L755.75,296.28 L756.49,294.97 L757.23,293.66 L757.97,292.35 L758.70,291.04 L759.44,289.73 L760.17,288.42 L760.90,287.11 L761.63,285.80 L762.36,284.48 L763.08,283.17 L763.81,281.85 L764.53,280.53 L765.25,279.22 L765.97,277.90 L766.69,276.58 L767.41,275.26 L768.13,273.94 L768.84,272.62 L769.56,271.30 L770.27,269.97 L770.98,268.65 L771.69,267.32 L772.40,266.00 L773.10,264.67 L773.81,263.34 L774.51,262.02 L775.21,260.69 L775.92,259.36 L776.61,258.03 L777.31,256.70 L778.01,255.36 L778.70,254.03 L779.39,252.70 L780.09,251.36 L780.77,250.02 L781.46,248.69 L782.15,247.35 L782.83,246.01 L783.52,244.67 L784.20,243.33 L784.88,241.99 L785.56,240.65 L786.23,239.30 L787.00,238.00 L786.70,239.58 L786.16,240.97 L785.62,242.36 L785.08,243.74 L784.53,245.13 L783.99,246.52 L783.45,247.91 L782.90,249.30 L782.36,250.69 L781.81,252.08 L781.27,253.47 L780.72,254.87 L780.17,256.26 L779.62,257.65 L779.08,259.04 L778.53,260.44 L777.97,261.83 L777.42,263.22 L776.87,264.62 L776.32,266.01 L775.76,267.41 L775.21,268.80 L774.65,270.20 L774.10,271.59 L773.54,272.99 L772.98,274.38 L772.42,275.78 L771.86,277.17 L771.30,278.57 L770.74,279.96 L770.17,281.36 L769.61,282.76 L769.05,284.15 L768.48,285.55 L767.91,286.94 L767.34,288.34 L766.78,289.73 L766.21,291.13 L765.64,292.53 L765.06,293.92 L764.49,295.32 L763.92,296.71 L763.34,298.10 L762.77,299.50 L762.19,300.89 L761.61,302.29 L761.03,303.68 L760.45,305.07 L759.87,306.47 L759.29,307.86 L758.70,309.25 L758.12,310.64 L757.53,312.03 L756.95,313.43 L756.36,314.82 L755.77,316.21 L755.18,317.60 L754.58,318.98 L753.99,320.37 L753.40,321.76 L752.80,323.15 L752.20,324.54 L751.61,325.92 L751.01,327.31 L750.41,328.69 L749.81,330.08 L749.20,331.46 L748.60,332.84 L747.99,334.23 L747.38,335.61 L746.78,336.99 L746.17,338.37 L745.56,339.75 L744.94,341.13 L744.33,342.50 L743.71,343.88 L743.10,345.25 L742.48,346.63 L741.86,348.00 L741.24,349.38 L740.62,350.75 L739.99,352.12 L739.37,353.49 L738.74,354.86 L738.12,356.23 L737.49,357.59 L736.86,358.96 L736.22,360.32 L735.59,361.69 L734.95,363.05 L734.32,364.41 L733.68,365.77 L733.04,367.13 L732.40,368.49 L731.75,369.84 L731.11,371.20 L730.46,372.55 L729.82,373.91 L729.17,375.26 L728.52,376.61 L727.86,377.96 L727.21,379.30 L726.55,380.65 L725.89,382.00 L725.23,383.34 L724.57,384.68 L723.91,386.02 L723.24,387.36 L722.58,388.70 L721.91,390.04 L721.24,391.38 L720.56,392.71 L719.89,394.05 L719.21,395.38 L718.53,396.71 L717.85,398.04 L717.16,399.37 L716.48,400.70 L715.79,402.02 L715.10,403.35 L714.41,404.67 L713.71,405.99 L713.02,407.32 L712.32,408.64 L711.61,409.96 L710.91,411.27 L710.20,412.59 L709.49,413.91 L708.78,415.22 L708.07,416.53 L707.35,417.85 L706.63,419.16 L705.91,420.47 L705.19,421.77 L704.46,423.08 L703.73,424.39 L703.00,425.69 L702.26,426.99 L701.53,428.30 L700.78,429.60 L700.04,430.90 L699.29,432.20 L698.55,433.49 L697.79,434.79 L697.04,436.08 L696.28,437.38 L695.52,438.67 L694.76,439.96 L693.99,441.25 L693.22,442.54 L692.45,443.83 L691.67,445.11 L690.89,446.40 L690.11,447.68 L689.32,448.97 L688.53,450.25 L687.74,451.53 L686.95,452.81 L686.15,454.09 L685.35,455.36 L684.54,456.64 L683.73,457.92 L682.92,459.19 L682.10,460.46 L681.28,461.73 L680.46,463.00 L679.64,464.27 L678.81,465.54 L677.97,466.81 L677.14,468.07 L676.30,469.34 L675.45,470.60 L674.60,471.86 L673.75,473.12 L672.90,474.38 L672.04,475.64 L671.17,476.89 L670.30,478.14 L669.43,479.39 L668.55,480.64 L667.67,481.88 L666.79,483.12 L665.89,484.36 L665.00,485.59 L664.09,486.82 L663.19,488.05 L662.27,489.27 L661.36,490.48 L660.43,491.69 L659.50,492.90 L658.57,494.10 L657.63,495.29 L656.68,496.48 L655.72,497.66 L654.76,498.83 L653.80,500.00 L652.82,501.16 L651.84,502.32 L650.86,503.46 L649.86,504.60 L648.86,505.74 L647.85,506.86 L646.84,507.97 L645.81,509.08 L644.78,510.18 L643.75,511.27 L642.70,512.35 L641.64,513.42 L640.58,514.48 L639.51,515.53 L638.43,516.57 L637.35,517.60 L636.25,518.62 L635.15,519.63 L634.03,520.63 L632.91,521.61 L631.78,522.59 L630.64,523.55 L629.49,524.50 L628.33,525.44 L627.17,526.36 L625.99,527.28 L624.80,528.17 L623.61,529.06 L622.40,529.93 L621.19,530.78 L619.96,531.62 L618.73,532.45 L617.49,533.26 L616.23,534.05 L614.97,534.82 L613.70,535.58 L612.43,536.32 L611.14,537.03 L609.84,537.74 L608.53,538.42 L607.22,539.08 L605.89,539.72 L604.56,540.34 L603.22,540.94 L601.86,541.52 L600.50,542.08 L599.13,542.61 L597.75,543.12 L596.36,543.61 L594.97,544.08 L593.56,544.52 L592.15,544.93 L590.72,545.33 L589.29,545.70 L587.85,546.04 L586.40,546.37 L584.95,546.68 L583.49,546.97 L582.02,547.24 L580.55,547.50 L579.07,547.74 L577.59,547.96 L576.10,548.17 L574.61,548.37 L573.12,548.55 L571.62,548.73 L570.12,548.89 L568.62,549.04 L567.12,549.19 L565.61,549.33 L564.11,549.46 L562.60,549.58 L561.09,549.71 L559.58,549.82 L558.08,549.93 L556.57,550.04 L555.06,550.14 L553.55,550.24 L552.04,550.33 L550.53,550.43 L549.03,550.51 L547.52,550.60 L546.01,550.68 L544.50,550.76 L542.99,550.84 L541.48,550.92 L539.98,550.99 L538.47,551.06 L536.96,551.13 L535.46,551.20 L533.95,551.27 L532.45,551.34 L530.94,551.41 L529.44,551.48 L527.94,551.54 L526.43,551.61 L524.93,551.68 L523.43,551.74 L521.93,551.81 L520.42,551.88 L518.92,551.95 L517.42,552.01 L515.92,552.08 L514.42,552.15 L512.92,552.22 L511.42,552.29 L509.92,552.37 L508.42,552.44 L506.92,552.52 L505.42,552.59 L503.92,552.67 L502.42,552.75 L500.92,552.83 L499.42,552.92 L497.92,553.01 L496.43,553.10 L494.93,553.19 L493.43,553.28 L491.93,553.38 L490.43,553.48 L488.93,553.59 L487.43,553.69 L485.94,553.80 L484.44,553.92 L482.94,554.04 L481.45,554.16 L479.95,554.29 L478.45,554.42 L476.96,554.55 L475.46,554.69 L473.97,554.84 L472.47,554.99 L470.98,555.14 L469.49,555.30 L467.99,555.46 L466.50,555.63 L465.01,555.81 L463.52,555.99 L462.03,556.18 L460.54,556.37 L459.05,556.58 L457.56,556.78 L456.08,557.00 L454.59,557.22 L453.11,557.44 L451.62,557.68 L450.14,557.92 L448.66,558.17 L447.17,558.42 L445.69,558.69 L444.21,558.96 L442.74,559.24 L441.26,559.52 L439.78,559.82 L438.30,560.12 L436.83,560.42 L435.35,560.73 L433.88,561.04 L432.40,561.36 L430.93,561.68 L429.45,562.00 L427.98,562.32 L426.50,562.65 L425.03,562.97 L423.55,563.29 L422.07,563.61 L420.60,563.93 L419.12,564.24 L417.64,564.55 L416.16,564.86 L414.68,565.16 L413.19,565.45 L411.71,565.73 L410.23,566.01 L408.75,566.28 L407.26,566.54 L405.78,566.78 L404.29,567.02 L402.80,567.24 L401.32,567.45 L399.83,567.65 L398.34,567.83 L396.85,568.00 L395.36,568.15 L393.87,568.28 L392.38,568.40 L390.88,568.50 L389.39,568.58 L387.90,568.66 L386.40,568.71 L384.91,568.76 L383.41,568.79 L381.91,568.81 L380.42,568.82 L378.92,568.81 L377.42,568.79 L375.92,568.77 L374.43,568.73 L372.93,568.69 L371.43,568.63 L369.93,568.57 L368.43,568.49 L366.93,568.41 L365.43,568.32 L363.93,568.23 L362.42,568.13 L360.92,568.02 L359.42,567.91 L357.92,567.79 L356.42,567.67 L354.92,567.55 L353.42,567.42 L351.91,567.28 L350.41,567.15 L348.91,567.01 L347.41,566.87 L345.91,566.73 L344.40,566.59 L342.90,566.45 L341.40,566.31 L339.90,566.18 L338.40,566.04 L336.90,565.90 L335.40,565.77 L333.90,565.63 L332.40,565.50 L330.90,565.37 L329.40,565.24 L327.90,565.11 L326.40,564.99 L324.90,564.87 L323.40,564.74 L321.90,564.63 L320.40,564.51 L318.90,564.40 L317.40,564.28 L315.90,564.18 L314.40,564.07 L312.90,563.97 L311.40,563.87 L309.90,563.77 L308.41,563.67 L306.91,563.58 L305.41,563.50 L303.91,563.41 L302.41,563.33 L300.91,563.25 L299.41,563.18 L297.91,563.11 L296.41,563.04 L294.91,562.98 L293.41,562.92 L291.91,562.87 L290.41,562.82 L288.91,562.77 L287.41,562.72 L285.91,562.68 L284.41,562.65 L282.91,562.61 L281.41,562.58 L279.91,562.56 L278.41,562.53 L276.91,562.51 L275.41,562.50 L273.90,562.48 L272.40,562.47 L270.90,562.47 L269.40,562.46 L267.90,562.46 L266.40,562.47 L264.89,562.47 L263.39,562.48 L261.89,562.49 L260.39,562.51 L258.88,562.52 L257.38,562.54 L255.88,562.57 L254.37,562.59 L252.87,562.62 L251.36,562.65 L249.86,562.69 L248.36,562.73 L246.85,562.76 L245.35,562.81 L243.84,562.85 L242.34,562.90 L240.83,562.95 L239.32,563.00 L237.82,563.06 L236.31,563.11 L234.80,563.17 L233.30,563.23 L231.79,563.30 L230.28,563.36 L228.77,563.43 L227.27,563.50 L225.76,563.58 L224.25,563.65 L222.74,563.73 L221.23,563.81 L219.72,563.89 L218.21,563.97 L216.70,564.06 L215.19,564.15 L213.68,564.24 L212.17,564.34 L210.66,564.45 L209.16,564.56 L207.65,564.69 L206.15,564.81 L204.65,564.95 L203.15,565.10 L201.65,565.26 L200.15,565.43 L198.66,565.61 L197.17,565.80 L195.68,566.00 L194.19,566.22 L192.71,566.46 L191.23,566.71 L189.76,566.97 L188.29,567.25 L186.82,567.55 L185.35,567.87 L183.90,568.20 L182.44,568.56 L180.99,568.93 L179.55,569.33 L178.11,569.74 L176.68,570.18 L175.25,570.64 L173.84,571.12 L172.43,571.63 L171.03,572.16 L169.64,572.72 L168.26,573.30 L166.90,573.91 L165.54,574.54 L164.20,575.20 L162.88,575.89 L161.57,576.61 L160.27,577.35 L158.99,578.13 L157.73,578.93 L156.49,579.77 L155.26,580.64 L154.06,581.53 L152.87,582.46 L151.71,583.43 L150.57,584.42 L149.45,585.46 L148.35,586.52 L147.28,587.62 L146.24,588.76 L145.50,590.00" fill="none" stroke="#1e6bdc" stroke-width="3.8" stroke-linejoin="round" stroke-linecap="round"/>
<path d="M145.50,588.00 L145.58,586.98 L145.78,585.87 L146.02,584.78 L146.29,583.71 L146.61,582.67 L146.96,581.65 L147.35,580.65 L147.77,579.68 L148.22,578.73 L148.71,577.80 L149.23,576.89 L149.79,576.00 L150.37,575.13 L150.98,574.29 L151.61,573.46 L152.28,572.65 L152.96,571.86 L153.68,571.09 L154.41,570.33 L155.17,569.60 L155.95,568.88 L156.75,568.18 L157.57,567.50 L158.40,566.83 L159.25,566.17 L160.12,565.54 L161.00,564.92 L161.90,564.31 L162.81,563.72 L163.72,563.14 L164.65,562.57 L165.59,562.02 L166.54,561.48 L167.49,560.95 L168.45,560.44 L169.42,559.94 L170.38,559.44 L171.35,558.96 L172.33,558.49 L173.30,558.03 L174.27,557.58 L175.24,557.14 L176.21,556.71 L177.17,556.29 L178.13,555.87 L179.08,555.47 L180.03,555.07 L180.97,554.67 L182.00,554.30" fill="none" stroke="#1e6bdc" stroke-width="3.8" stroke-linecap="round"/>
<path d="M146.10,644.70 L146.73,643.33 L147.22,641.91 L147.70,640.49 L148.18,639.07 L148.66,637.65 L149.15,636.23 L149.63,634.81 L150.12,633.38 L150.61,631.96 L151.10,630.54 L151.60,629.12 L152.10,627.70 L152.60,626.28 L153.10,624.86 L153.61,623.45 L154.12,622.03 L154.64,620.62 L155.16,619.20 L155.69,617.79 L156.22,616.39 L156.76,614.98 L157.30,613.58 L157.85,612.18 L158.41,610.78 L158.97,609.39 L159.54,608.00 L160.12,606.61 L160.70,605.22 L161.29,603.84 L161.89,602.47 L162.50,601.10 L163.12,599.73 L163.74,598.36 L164.38,597.01 L165.02,595.65 L165.68,594.30 L166.34,592.96 L167.02,591.62 L167.71,590.29 L168.40,588.96 L169.11,587.64 L169.83,586.32 L170.56,585.02 L171.30,583.71 L172.06,582.42 L172.83,581.13 L173.61,579.85 L174.40,578.57 L175.21,577.31 L176.03,576.05 L176.86,574.80 L177.70,573.55 L178.56,572.32 L179.43,571.09 L180.31,569.88 L181.20,568.67 L182.11,567.47 L183.03,566.28 L183.96,565.10 L184.90,563.93 L185.86,562.77 L186.83,561.62 L187.81,560.49 L188.80,559.36 L189.81,558.24 L190.83,557.14 L191.86,556.05 L192.91,554.97 L193.97,553.90 L195.04,552.84 L196.12,551.80 L197.21,550.76 L198.32,549.75 L199.44,548.74 L200.58,547.75 L201.72,546.77 L202.88,545.81 L204.05,544.85 L205.24,543.92 L206.44,543.00 L207.65,542.09 L208.87,541.20 L210.10,540.32 L211.34,539.46 L212.60,538.62 L213.86,537.79 L215.14,536.98 L216.43,536.18 L217.72,535.41 L219.03,534.64 L220.35,533.90 L221.67,533.18 L223.01,532.47 L224.35,531.78 L225.70,531.11 L227.06,530.46 L228.43,529.83 L229.81,529.22 L231.19,528.63 L232.58,528.05 L233.98,527.50 L235.38,526.97 L236.79,526.46 L238.21,525.97 L239.63,525.51 L241.06,525.06 L242.49,524.64 L243.93,524.23 L245.38,523.86 L246.82,523.50 L248.28,523.17 L249.73,522.86 L251.19,522.57 L252.66,522.31 L254.13,522.07 L255.60,521.85 L257.07,521.65 L258.55,521.47 L260.03,521.32 L261.51,521.17 L263.00,521.05 L264.49,520.95 L265.98,520.86 L267.47,520.78 L268.96,520.72 L270.46,520.68 L271.96,520.64 L273.46,520.62 L274.97,520.61 L276.47,520.61 L277.98,520.62 L279.48,520.64 L280.99,520.67 L282.50,520.71 L284.01,520.75 L285.52,520.80 L287.03,520.85 L288.55,520.91 L290.06,520.97 L291.57,521.04 L293.08,521.11 L294.59,521.18 L296.11,521.24 L297.62,521.31 L299.13,521.38 L300.64,521.45 L302.15,521.51 L303.66,521.58 L305.17,521.64 L306.68,521.70 L308.19,521.76 L309.70,521.82 L311.21,521.88 L312.71,521.94 L314.22,521.99 L315.73,522.04 L317.23,522.09 L318.74,522.14 L320.24,522.19 L321.75,522.23 L323.25,522.28 L324.76,522.32 L326.26,522.36 L327.77,522.40 L329.27,522.43 L330.77,522.47 L332.28,522.50 L333.78,522.53 L335.28,522.55 L336.78,522.58 L338.28,522.60 L339.79,522.62 L341.29,522.64 L342.79,522.65 L344.29,522.67 L345.79,522.68 L347.29,522.68 L348.79,522.69 L350.29,522.69 L351.79,522.69 L353.29,522.69 L354.79,522.68 L356.29,522.67 L357.78,522.66 L359.28,522.64 L360.78,522.63 L362.28,522.61 L363.78,522.58 L365.28,522.55 L366.77,522.52 L368.27,522.49 L369.77,522.45 L371.27,522.41 L372.76,522.37 L374.26,522.32 L375.76,522.27 L377.26,522.22 L378.75,522.16 L380.25,522.10 L381.75,522.03 L383.25,521.97 L384.74,521.89 L386.24,521.82 L387.74,521.74 L389.24,521.65 L390.73,521.57 L392.23,521.48 L393.73,521.38 L395.23,521.28 L396.72,521.18 L398.22,521.07 L399.72,520.96 L401.22,520.84 L402.71,520.72 L404.21,520.60 L405.71,520.47 L407.21,520.33 L408.71,520.20 L410.20,520.05 L411.70,519.91 L413.20,519.76 L414.70,519.60 L416.20,519.44 L417.70,519.27 L419.20,519.10 L420.70,518.93 L422.19,518.74 L423.69,518.55 L425.19,518.35 L426.68,518.14 L428.18,517.92 L429.67,517.69 L431.15,517.44 L432.64,517.18 L434.12,516.91 L435.60,516.61 L437.07,516.31 L438.54,515.98 L440.00,515.63 L441.46,515.27 L442.91,514.88 L444.36,514.47 L445.80,514.04 L447.24,513.58 L448.67,513.10 L450.09,512.60 L451.50,512.07 L452.91,511.53 L454.32,510.96 L455.72,510.39 L457.12,509.81 L458.52,509.22 L459.91,508.62 L461.30,508.03 L462.70,507.44 L464.09,506.85 L465.49,506.27 L466.89,505.69 L468.29,505.14 L469.70,504.59 L471.10,504.07 L472.52,503.57 L473.94,503.09 L475.37,502.64 L476.80,502.22 L478.24,501.84 L479.69,501.49 L481.15,501.17 L482.61,500.89 L484.08,500.65 L485.56,500.44 L487.03,500.27 L488.51,500.14 L489.99,500.05 L491.47,500.00 L492.96,499.99 L494.44,500.02 L495.92,500.09 L497.40,500.21 L498.87,500.37 L500.34,500.57 L501.81,500.81 L503.27,501.10 L504.73,501.42 L506.18,501.78 L507.63,502.16 L509.08,502.56 L510.53,502.98 L511.98,503.41 L513.42,503.85 L514.87,504.29 L516.32,504.73 L517.77,505.16 L519.22,505.58 L520.67,505.98 L522.13,506.36 L523.59,506.72 L525.06,507.06 L526.53,507.37 L528.00,507.67 L529.47,507.94 L530.95,508.19 L532.43,508.42 L533.92,508.63 L535.40,508.83 L536.89,509.00 L538.38,509.16 L539.88,509.30 L541.37,509.42 L542.87,509.52 L544.37,509.61 L545.87,509.69 L547.38,509.75 L548.88,509.80 L550.39,509.83 L551.90,509.85 L553.41,509.85 L554.92,509.85 L556.43,509.83 L557.95,509.81 L559.46,509.77 L560.98,509.72 L562.49,509.66 L564.01,509.60 L565.53,509.52 L567.04,509.43 L568.56,509.33 L570.07,509.21 L571.57,509.07 L573.07,508.90 L574.56,508.71 L576.05,508.49 L577.52,508.25 L578.99,507.97 L580.44,507.65 L581.87,507.31 L583.30,506.92 L584.70,506.50 L586.08,506.03 L587.45,505.52 L588.79,504.97 L590.11,504.36 L591.40,503.71 L592.67,503.02 L593.92,502.28 L595.15,501.49 L596.35,500.67 L597.53,499.81 L598.69,498.91 L599.84,497.97 L600.96,497.01 L602.07,496.01 L603.15,494.98 L604.22,493.93 L605.28,492.85 L606.31,491.75 L607.33,490.62 L608.34,489.48 L609.34,488.32 L610.32,487.14 L611.28,485.95 L612.24,484.75 L613.19,483.54 L614.12,482.32 L615.04,481.10 L615.96,479.87 L616.86,478.64 L617.76,477.40 L618.65,476.16 L619.53,474.92 L620.40,473.67 L621.26,472.42 L622.12,471.17 L622.96,469.92 L623.80,468.66 L624.63,467.39 L625.46,466.13 L626.28,464.86 L627.09,463.59 L627.89,462.31 L628.69,461.04 L629.49,459.76 L630.27,458.48 L631.05,457.19 L631.83,455.90 L632.60,454.61 L633.36,453.32 L634.12,452.03 L634.88,450.73 L635.63,449.43 L636.37,448.13 L637.12,446.83 L637.85,445.53 L638.59,444.22 L639.32,442.92 L640.05,441.61 L640.77,440.30 L641.49,438.99 L642.21,437.67 L642.93,436.36 L643.64,435.04 L644.35,433.72 L645.06,432.41 L645.77,431.09 L646.47,429.77 L647.18,428.45 L647.88,427.12 L648.58,425.80 L649.28,424.48 L649.98,423.15 L650.68,421.83 L651.38,420.50 L652.07,419.18 L652.77,417.85 L653.46,416.52 L654.15,415.19 L654.84,413.86 L655.53,412.53 L656.22,411.20 L656.90,409.86 L657.59,408.53 L658.27,407.19 L658.95,405.86 L659.63,404.52 L660.31,403.19 L660.99,401.85 L661.67,400.51 L662.34,399.17 L663.02,397.83 L663.69,396.49 L664.36,395.15 L665.04,393.81 L665.71,392.46 L666.37,391.12 L667.04,389.78 L667.71,388.43 L668.37,387.09 L669.04,385.74 L669.70,384.39 L670.36,383.04 L671.02,381.70 L671.68,380.35 L672.33,379.00 L672.99,377.65 L673.65,376.29 L674.30,374.94 L674.95,373.59 L675.61,372.24 L676.26,370.88 L676.90,369.53 L677.55,368.17 L678.20,366.82 L678.85,365.46 L679.49,364.10 L680.13,362.74 L680.78,361.39 L681.42,360.03 L682.06,358.67 L682.70,357.31 L683.34,355.95 L683.97,354.58 L684.61,353.22 L685.24,351.86 L685.88,350.50 L686.51,349.13 L687.14,347.77 L687.77,346.40 L688.40,345.04 L689.03,343.67 L689.66,342.30 L690.28,340.94 L690.91,339.57 L691.53,338.20 L692.15,336.83 L692.78,335.46 L693.40,334.09 L694.02,332.72 L694.64,331.35 L695.25,329.98 L695.87,328.61 L696.49,327.24 L697.10,325.86 L697.71,324.49 L698.33,323.12 L698.94,321.74 L699.55,320.37 L700.16,318.99 L700.77,317.62 L701.38,316.24 L701.98,314.86 L702.59,313.49 L703.19,312.11 L703.80,310.73 L704.40,309.35 L705.00,307.98 L705.60,306.60 L706.20,305.22 L706.80,303.84 L707.40,302.46 L708.00,301.08 L708.60,299.70 L709.19,298.31 L709.79,296.93 L710.38,295.55 L710.97,294.17 L711.56,292.78 L712.15,291.40 L712.74,290.02 L713.33,288.63 L713.92,287.25 L714.51,285.87 L715.10,284.48 L715.68,283.10 L716.27,281.71 L716.85,280.32 L717.43,278.94 L718.02,277.55 L718.60,276.16 L719.18,274.78 L719.76,273.39 L720.34,272.00 L720.91,270.61 L721.49,269.23 L722.07,267.84 L722.64,266.45 L723.22,265.06 L723.79,263.67 L724.37,262.28 L724.94,260.89 L725.51,259.50 L726.08,258.11 L726.65,256.72 L727.22,255.33 L727.79,253.94 L728.36,252.55 L728.92,251.16 L729.49,249.77 L730.06,248.38 L730.62,246.98 L731.19,245.59 L731.75,244.20 L732.32,242.81 L732.88,241.41 L733.44,240.02 L734.01,238.63 L734.57,237.24 L735.13,235.84 L735.69,234.45 L736.25,233.06 L736.81,231.66 L737.37,230.27 L737.93,228.88 L738.49,227.48 L739.05,226.09 L739.61,224.69 L740.17,223.30 L740.72,221.91 L741.28,220.51 L741.84,219.12 L742.40,217.72 L742.95,216.33 L743.51,214.93 L744.07,213.54 L744.62,212.14 L745.18,210.75 L745.74,209.35 L746.29,207.96 L746.85,206.56 L747.41,205.17 L747.96,203.77 L748.52,202.38 L749.07,200.98 L749.63,199.59 L750.18,198.19 L750.74,196.80 L751.30,195.40 L751.85,194.01 L752.41,192.61 L752.97,191.22 L753.52,189.82 L754.08,188.43 L754.63,187.04 L755.19,185.64 L755.75,184.25 L756.31,182.85 L756.86,181.46 L757.42,180.06 L757.98,178.67 L758.54,177.27 L759.10,175.88 L759.66,174.48 L760.21,173.09 L760.77,171.70 L761.33,170.30 L761.89,168.91 L762.46,167.51 L763.02,166.12 L763.58,164.73 L764.14,163.33 L764.70,161.94 L765.27,160.55 L765.83,159.15 L766.39,157.76 L766.96,156.37 L767.52,154.97 L768.09,153.58 L768.66,152.19 L769.22,150.80 L769.79,149.41 L770.36,148.01 L770.93,146.62 L771.50,145.23 L772.07,143.84 L772.64,142.45 L773.21,141.06 L773.78,139.67 L774.36,138.28 L774.93,136.89 L775.51,135.50 L776.08,134.11 L776.66,132.72 L777.23,131.33 L777.81,129.94 L778.39,128.55 L778.97,127.16 L779.55,125.77 L780.14,124.39 L780.72,123.00 L781.30,121.61 L781.89,120.22 L782.47,118.84 L783.06,117.45 L783.65,116.06 L784.24,114.68 L784.83,113.29 L785.42,111.91 L786.01,110.52 L786.61,109.14 L787.00,107.70 L786.46,109.06 L785.95,110.48 L785.44,111.89 L784.93,113.31 L784.42,114.72 L783.91,116.14 L783.40,117.55 L782.89,118.97 L782.38,120.39 L781.87,121.80 L781.37,123.22 L780.86,124.63 L780.35,126.05 L779.84,127.46 L779.33,128.88 L778.82,130.29 L778.31,131.71 L777.81,133.12 L777.30,134.54 L776.79,135.95 L776.28,137.37 L775.77,138.78 L775.26,140.20 L774.76,141.61 L774.25,143.03 L773.74,144.44 L773.23,145.86 L772.72,147.27 L772.21,148.69 L771.71,150.10 L771.20,151.52 L770.69,152.93 L770.18,154.35 L769.67,155.76 L769.16,157.18 L768.65,158.59 L768.14,160.00 L767.64,161.42 L767.13,162.83 L766.62,164.25 L766.11,165.66 L765.60,167.08 L765.09,168.49 L764.58,169.90 L764.07,171.32 L763.56,172.73 L763.05,174.14 L762.54,175.56 L762.03,176.97 L761.52,178.39 L761.01,179.80 L760.50,181.21 L759.98,182.62 L759.47,184.04 L758.96,185.45 L758.45,186.86 L757.94,188.28 L757.43,189.69 L756.91,191.10 L756.40,192.51 L755.89,193.93 L755.37,195.34 L754.86,196.75 L754.35,198.16 L753.83,199.57 L753.32,200.98 L752.81,202.40 L752.29,203.81 L751.78,205.22 L751.26,206.63 L750.75,208.04 L750.23,209.45 L749.71,210.86 L749.20,212.27 L748.68,213.68 L748.16,215.09 L747.65,216.50 L747.13,217.91 L746.61,219.32 L746.09,220.73 L745.57,222.14 L745.05,223.55 L744.53,224.96 L744.01,226.37 L743.49,227.78 L742.97,229.19 L742.45,230.60 L741.93,232.00 L741.41,233.41 L740.88,234.82 L740.36,236.23 L739.84,237.64 L739.32,239.04 L738.79,240.45 L738.27,241.86 L737.74,243.26 L737.22,244.67 L736.69,246.08 L736.16,247.48 L735.64,248.89 L735.11,250.29 L734.58,251.70 L734.05,253.11 L733.52,254.51 L732.99,255.92 L732.47,257.32 L731.93,258.72 L731.40,260.13 L730.87,261.53 L730.34,262.94 L729.81,264.34 L729.27,265.74 L728.74,267.15 L728.21,268.55 L727.67,269.95 L727.14,271.36 L726.60,272.76 L726.06,274.16 L725.53,275.56 L724.99,276.96 L724.45,278.36 L723.91,279.77 L723.37,281.17 L722.83,282.57 L722.29,283.97 L721.75,285.37 L721.21,286.77 L720.67,288.17 L720.12,289.56 L719.58,290.96 L719.03,292.36 L718.49,293.76 L717.94,295.16 L717.39,296.56 L716.85,297.95 L716.30,299.35 L715.75,300.75 L715.20,302.15 L714.65,303.54 L714.10,304.94 L713.55,306.33 L712.99,307.73 L712.44,309.12 L711.89,310.52 L711.33,311.91 L710.78,313.31 L710.22,314.70 L709.66,316.10 L709.11,317.49 L708.55,318.88 L707.99,320.28 L707.43,321.67 L706.87,323.06 L706.30,324.45 L705.74,325.84 L705.18,327.23 L704.61,328.63 L704.05,330.02 L703.48,331.41 L702.92,332.80 L702.35,334.19 L701.78,335.57 L701.21,336.96 L700.64,338.35 L700.07,339.74 L699.50,341.13 L698.92,342.52 L698.35,343.90 L697.77,345.29 L697.20,346.68 L696.62,348.06 L696.05,349.45 L695.47,350.83 L694.89,352.22 L694.31,353.60 L693.73,354.99 L693.14,356.37 L692.56,357.75 L691.98,359.14 L691.39,360.52 L690.80,361.90 L690.22,363.28 L689.63,364.67 L689.04,366.05 L688.45,367.43 L687.86,368.81 L687.27,370.19 L686.67,371.57 L686.08,372.95 L685.48,374.32 L684.89,375.70 L684.29,377.08 L683.69,378.46 L683.09,379.84 L682.49,381.21 L681.89,382.59 L681.29,383.97 L680.68,385.34 L680.08,386.72 L679.47,388.09 L678.87,389.46 L678.26,390.84 L677.65,392.21 L677.04,393.58 L676.43,394.96 L675.81,396.33 L675.20,397.70 L674.58,399.07 L673.97,400.44 L673.35,401.81 L672.73,403.18 L672.11,404.55 L671.49,405.92 L670.87,407.29 L670.25,408.66 L669.62,410.03 L669.00,411.39 L668.37,412.76 L667.74,414.13 L667.11,415.49 L666.48,416.86 L665.85,418.22 L665.22,419.59 L664.58,420.95 L663.95,422.31 L663.31,423.68 L662.67,425.04 L662.03,426.40 L661.39,427.76 L660.75,429.12 L660.11,430.48 L659.46,431.84 L658.82,433.20 L658.17,434.56 L657.52,435.92 L656.87,437.28 L656.22,438.64 L655.57,439.99 L654.92,441.35 L654.26,442.71 L653.61,444.06 L652.95,445.42 L652.29,446.77 L651.63,448.12 L650.97,449.48 L650.30,450.83 L649.64,452.18 L648.97,453.54 L648.31,454.89 L647.64,456.24 L646.97,457.59 L646.29,458.94 L645.62,460.28 L644.94,461.63 L644.27,462.98 L643.58,464.32 L642.90,465.66 L642.21,467.01 L641.52,468.34 L640.83,469.68 L640.13,471.02 L639.43,472.35 L638.73,473.68 L638.02,475.00 L637.30,476.33 L636.58,477.65 L635.86,478.96 L635.13,480.28 L634.40,481.59 L633.66,482.89 L632.91,484.20 L632.16,485.49 L631.40,486.79 L630.64,488.08 L629.87,489.36 L629.09,490.64 L628.31,491.92 L627.52,493.19 L626.72,494.45 L625.91,495.71 L625.10,496.96 L624.27,498.21 L623.44,499.45 L622.60,500.69 L621.76,501.91 L620.90,503.14 L620.03,504.35 L619.16,505.56 L618.28,506.76 L617.38,507.96 L616.48,509.14 L615.56,510.32 L614.64,511.50 L613.70,512.66 L612.76,513.82 L611.80,514.96 L610.83,516.10 L609.85,517.24 L608.86,518.36 L607.86,519.47 L606.84,520.58 L605.82,521.67 L604.78,522.76 L603.72,523.83 L602.66,524.90 L601.58,525.96 L600.49,527.01 L599.39,528.04 L598.27,529.07 L597.14,530.08 L596.00,531.08 L594.84,532.06 L593.68,533.03 L592.50,533.99 L591.31,534.93 L590.11,535.86 L588.89,536.77 L587.67,537.66 L586.43,538.54 L585.18,539.39 L583.92,540.23 L582.65,541.05 L581.37,541.85 L580.08,542.63 L578.78,543.38 L577.47,544.12 L576.14,544.83 L574.81,545.52 L573.47,546.18 L572.11,546.82 L570.75,547.44 L569.38,548.03 L568.00,548.59 L566.61,549.13 L565.21,549.64 L563.80,550.12 L562.38,550.57 L560.95,551.00 L559.52,551.40 L558.08,551.78 L556.64,552.14 L555.18,552.48 L553.73,552.81 L552.27,553.13 L550.81,553.43 L549.34,553.72 L547.87,553.99 L546.40,554.26 L544.92,554.51 L543.45,554.76 L541.97,555.00 L540.48,555.22 L539.00,555.44 L537.51,555.65 L536.02,555.86 L534.53,556.05 L533.04,556.24 L531.55,556.43 L530.05,556.61 L528.56,556.78 L527.06,556.95 L525.56,557.12 L524.06,557.28 L522.57,557.44 L521.07,557.60 L519.57,557.76 L518.07,557.91 L516.57,558.07 L515.07,558.22 L513.57,558.37 L512.07,558.52 L510.57,558.67 L509.07,558.82 L507.57,558.98 L506.07,559.13 L504.57,559.28 L503.07,559.44 L501.57,559.59 L500.07,559.75 L498.57,559.91 L497.07,560.08 L495.58,560.24 L494.08,560.41 L492.59,560.59 L491.09,560.77 L489.60,560.95 L488.11,561.14 L486.62,561.33 L485.13,561.53 L483.64,561.73 L482.15,561.94 L480.66,562.15 L479.18,562.37 L477.70,562.60 L476.22,562.84 L474.74,563.08 L473.26,563.33 L471.78,563.59 L470.31,563.86 L468.83,564.14 L467.36,564.42 L465.89,564.72 L464.43,565.02 L462.96,565.34 L461.50,565.66 L460.04,566.00 L458.58,566.34 L457.13,566.70 L455.67,567.07 L454.22,567.45 L452.77,567.84 L451.33,568.24 L449.88,568.65 L448.44,569.06 L446.99,569.48 L445.55,569.90 L444.11,570.33 L442.67,570.76 L441.23,571.20 L439.79,571.63 L438.35,572.07 L436.91,572.51 L435.47,572.95 L434.03,573.38 L432.59,573.81 L431.15,574.24 L429.71,574.67 L428.27,575.09 L426.82,575.50 L425.37,575.91 L423.92,576.31 L422.47,576.70 L421.02,577.08 L419.57,577.46 L418.11,577.82 L416.65,578.17 L415.19,578.51 L413.73,578.85 L412.26,579.17 L410.79,579.48 L409.33,579.78 L407.85,580.07 L406.38,580.34 L404.91,580.61 L403.43,580.86 L401.95,581.11 L400.48,581.33 L398.99,581.55 L397.51,581.76 L396.03,581.95 L394.54,582.13 L393.06,582.29 L391.57,582.44 L390.08,582.58 L388.59,582.70 L387.10,582.81 L385.60,582.91 L384.11,582.99 L382.61,583.05 L381.12,583.10 L379.62,583.14 L378.12,583.16 L376.62,583.17 L375.12,583.17 L373.62,583.15 L372.11,583.12 L370.61,583.08 L369.11,583.03 L367.60,582.97 L366.10,582.90 L364.59,582.81 L363.09,582.72 L361.58,582.63 L360.08,582.52 L358.57,582.41 L357.06,582.29 L355.56,582.16 L354.05,582.03 L352.54,581.89 L351.04,581.75 L349.53,581.61 L348.03,581.46 L346.52,581.31 L345.01,581.15 L343.51,581.00 L342.00,580.84 L340.50,580.68 L339.00,580.52 L337.49,580.36 L335.99,580.20 L334.49,580.04 L332.99,579.89 L331.49,579.73 L329.99,579.58 L328.50,579.43 L327.00,579.29 L325.51,579.15 L324.01,579.01 L322.52,578.88 L321.03,578.75 L319.54,578.63 L318.05,578.51 L316.56,578.40 L315.07,578.28 L313.58,578.18 L312.09,578.07 L310.60,577.97 L309.12,577.87 L307.63,577.78 L306.14,577.69 L304.65,577.60 L303.17,577.51 L301.68,577.43 L300.19,577.35 L298.70,577.27 L297.21,577.19 L295.72,577.12 L294.23,577.04 L292.74,576.97 L291.25,576.90 L289.76,576.83 L288.26,576.77 L286.77,576.70 L285.27,576.64 L283.77,576.58 L282.27,576.51 L280.77,576.45 L279.27,576.39 L277.76,576.33 L276.26,576.27 L274.75,576.21 L273.24,576.15 L271.72,576.09 L270.21,576.03 L268.69,575.97 L267.17,575.91 L265.65,575.85 L264.12,575.79 L262.60,575.73 L261.07,575.67 L259.54,575.62 L258.01,575.57 L256.48,575.53 L254.95,575.49 L253.43,575.47 L251.90,575.45 L250.38,575.44 L248.85,575.44 L247.33,575.46 L245.82,575.49 L244.30,575.54 L242.80,575.60 L241.29,575.67 L239.79,575.77 L238.30,575.88 L236.81,576.02 L235.32,576.18 L233.85,576.35 L232.38,576.56 L230.91,576.78 L229.46,577.03 L228.01,577.31 L226.58,577.62 L225.15,577.96 L223.73,578.32 L222.32,578.72 L220.92,579.15 L219.53,579.61 L218.16,580.11 L216.79,580.64 L215.44,581.19 L214.09,581.78 L212.75,582.40 L211.43,583.04 L210.12,583.72 L208.81,584.41 L207.52,585.14 L206.23,585.89 L204.95,586.66 L203.69,587.45 L202.43,588.27 L201.18,589.11 L199.95,589.97 L198.72,590.85 L197.50,591.75 L196.29,592.66 L195.08,593.60 L193.89,594.54 L192.70,595.51 L191.53,596.49 L190.36,597.48 L189.20,598.48 L188.05,599.50 L186.90,600.53 L185.77,601.57 L184.64,602.61 L183.52,603.67 L182.40,604.73 L181.30,605.80 L180.20,606.88 L179.11,607.96 L178.03,609.04 L176.95,610.13 L175.88,611.22 L174.82,612.31 L173.76,613.40 L172.71,614.49 L171.67,615.59 L170.63,616.68 L169.60,617.76 L168.58,618.85 L167.56,619.93 L166.54,621.01 L165.54,622.08 L164.53,623.16 L163.54,624.24 L162.54,625.32 L161.55,626.41 L160.57,627.49 L159.58,628.58 L158.60,629.68 L157.63,630.78 L156.65,631.88 L155.68,633.00 L154.71,634.12 L153.74,635.25 L152.77,636.39 L151.81,637.54 L150.84,638.70 L149.87,639.87 L148.91,641.06 L147.94,642.26 L146.97,643.47 L146.10,644.70" fill="none" stroke="#36ab68" stroke-width="3.8" stroke-linejoin="round" stroke-linecap="round"/>
<g stroke="rgba(128,82,84,0.55)" stroke-width="3.5"><line x1="280.0" y1="486.9" x2="280.0" y2="603.0"/><line x1="561.0" y1="486.9" x2="561.0" y2="603.0"/><line x1="278.2" y1="488.6" x2="562.8" y2="488.6"/><line x1="278.2" y1="601.3" x2="562.8" y2="601.3"/></g>
<rect x="191" y="38" width="456.1" height="344.4" fill="#fff"/>
<g stroke="#7a4444" stroke-width="2" fill="none"><line x1="191.0" y1="347.78" x2="194.0" y2="347.78"/>
<line x1="191.0" y1="313.36" x2="194.0" y2="313.36"/>
<line x1="191.0" y1="278.94" x2="194.0" y2="278.94"/>
<line x1="191.0" y1="244.52" x2="194.0" y2="244.52"/>
<line x1="191.0" y1="210.10" x2="197.0" y2="210.10"/>
<line x1="191.0" y1="175.68" x2="194.0" y2="175.68"/>
<line x1="191.0" y1="141.26" x2="194.0" y2="141.26"/>
<line x1="191.0" y1="106.84" x2="194.0" y2="106.84"/>
<line x1="191.0" y1="72.42" x2="194.0" y2="72.42"/>
<line x1="213.82" y1="382.4" x2="213.82" y2="379.4"/>
<line x1="236.63" y1="382.4" x2="236.63" y2="379.4"/>
<line x1="259.44" y1="382.4" x2="259.44" y2="379.4"/>
<line x1="282.26" y1="382.4" x2="282.26" y2="379.4"/>
<line x1="305.07" y1="382.4" x2="305.07" y2="376.4"/>
<line x1="327.89" y1="382.4" x2="327.89" y2="379.4"/>
<line x1="350.71" y1="382.4" x2="350.71" y2="379.4"/>
<line x1="373.52" y1="382.4" x2="373.52" y2="379.4"/>
<line x1="396.33" y1="382.4" x2="396.33" y2="379.4"/>
<line x1="419.15" y1="382.4" x2="419.15" y2="376.4"/>
<line x1="441.97" y1="382.4" x2="441.97" y2="379.4"/>
<line x1="464.78" y1="382.4" x2="464.78" y2="379.4"/>
<line x1="487.59" y1="382.4" x2="487.59" y2="379.4"/>
<line x1="510.41" y1="382.4" x2="510.41" y2="379.4"/>
<line x1="533.23" y1="382.4" x2="533.23" y2="376.4"/>
<line x1="556.04" y1="382.4" x2="556.04" y2="379.4"/>
<line x1="578.86" y1="382.4" x2="578.86" y2="379.4"/>
<line x1="601.67" y1="382.4" x2="601.67" y2="379.4"/>
<line x1="624.49" y1="382.4" x2="624.49" y2="379.4"/>
<rect x="191.0" y="38.0" width="456.1" height="344.4" fill="none"/></g><g font-family="Liberation Serif" font-weight="bold" font-size="14" fill="#7a4444"><text x="184" y="41.8" text-anchor="end">0.01</text>
<text x="184" y="214.8" text-anchor="end">0.00</text>
<text x="184" y="386.9" text-anchor="end">-0.01</text>
<text x="191.0" y="400.4" text-anchor="middle">0.50</text>
<text x="305.1" y="400.4" text-anchor="middle">0.75</text>
<text x="419.1" y="400.4" text-anchor="middle">1.00</text>
<text x="533.2" y="400.4" text-anchor="middle">1.25</text>
<text x="647.3" y="400.4" text-anchor="middle">1.50</text></g><text x="419.2" y="427.3" text-anchor="middle" font-family="Liberation Serif" font-weight="bold" font-size="16.6" fill="#7a4444">Potential vs SCE (V)</text><text transform="translate(148.5,210) rotate(-90)" text-anchor="middle" font-family="Liberation Serif" font-weight="bold" font-size="16.4" fill="#7a4444">Current (A)</text>
<g clip-path="url(#ic)">
<path d="M191.00,196.80 L192.52,196.80 L194.03,196.80 L195.54,196.78 L197.05,196.75 L198.56,196.70 L200.07,196.65 L201.57,196.59 L203.08,196.52 L204.58,196.44 L206.08,196.35 L207.59,196.25 L209.09,196.14 L210.59,196.02 L212.09,195.90 L213.59,195.76 L215.09,195.62 L216.59,195.47 L218.08,195.31 L219.58,195.15 L221.07,194.98 L222.57,194.80 L224.06,194.61 L225.56,194.42 L227.05,194.22 L228.54,194.02 L230.04,193.81 L231.53,193.60 L233.02,193.38 L234.51,193.16 L236.00,192.93 L237.49,192.70 L238.98,192.46 L240.47,192.22 L241.95,191.98 L243.44,191.73 L244.93,191.48 L246.42,191.23 L247.90,190.98 L249.39,190.72 L250.88,190.46 L252.36,190.20 L253.85,189.93 L255.33,189.67 L256.82,189.41 L258.30,189.14 L259.79,188.87 L261.27,188.61 L262.76,188.34 L264.24,188.07 L265.73,187.81 L267.21,187.54 L268.70,187.28 L270.18,187.01 L271.67,186.75 L273.15,186.49 L274.64,186.23 L276.12,185.98 L277.61,185.72 L279.09,185.47 L280.58,185.22 L282.06,184.98 L283.55,184.74 L285.03,184.50 L286.52,184.26 L288.01,184.03 L289.49,183.81 L290.98,183.59 L292.47,183.37 L293.95,183.16 L295.44,182.95 L296.93,182.75 L298.42,182.56 L299.91,182.37 L301.40,182.19 L302.89,182.01 L304.38,181.84 L305.87,181.68 L307.36,181.53 L308.85,181.38 L310.34,181.24 L311.84,181.11 L313.33,180.99 L314.82,180.87 L316.32,180.77 L317.81,180.67 L319.31,180.58 L320.81,180.51 L322.30,180.44 L323.80,180.38 L325.30,180.33 L326.80,180.30 L328.30,180.27 L329.80,180.26 L331.30,180.25 L332.81,180.26 L334.31,180.28 L335.81,180.31 L337.32,180.35 L338.83,180.41 L340.33,180.47 L341.84,180.55 L343.35,180.63 L344.86,180.73 L346.37,180.83 L347.88,180.93 L349.39,181.04 L350.90,181.16 L352.41,181.27 L353.92,181.40 L355.43,181.52 L356.94,181.64 L358.45,181.77 L359.96,181.89 L361.47,182.01 L362.98,182.13 L364.49,182.24 L366.00,182.36 L367.51,182.46 L369.02,182.56 L370.52,182.65 L372.03,182.74 L373.54,182.81 L375.04,182.88 L376.54,182.94 L378.04,182.98 L379.54,183.01 L381.04,183.03 L382.54,183.04 L384.04,183.03 L385.53,183.00 L387.03,182.96 L388.52,182.90 L390.01,182.82 L391.50,182.73 L392.98,182.61 L394.47,182.47 L395.95,182.31 L397.43,182.13 L398.91,181.92 L400.39,181.69 L401.86,181.43 L403.33,181.15 L404.80,180.85 L406.27,180.52 L407.73,180.18 L409.19,179.81 L410.65,179.42 L412.11,179.01 L413.56,178.58 L415.01,178.13 L416.46,177.67 L417.90,177.19 L419.34,176.69 L420.78,176.18 L422.21,175.66 L423.64,175.12 L425.07,174.57 L426.49,174.00 L427.91,173.43 L429.33,172.84 L430.74,172.25 L432.15,171.64 L433.56,171.03 L434.96,170.41 L436.36,169.78 L437.75,169.15 L439.14,168.51 L440.53,167.86 L441.91,167.22 L443.29,166.57 L444.66,165.91 L446.03,165.26 L447.40,164.61 L448.76,163.95 L450.11,163.30 L451.46,162.65 L452.81,162.00 L454.16,161.35 L455.51,160.71 L456.86,160.08 L458.21,159.45 L459.56,158.83 L460.92,158.21 L462.28,157.61 L463.64,157.02 L465.01,156.44 L466.38,155.87 L467.77,155.31 L469.16,154.77 L470.56,154.24 L471.97,153.73 L473.39,153.24 L474.83,152.76 L476.27,152.30 L477.73,151.87 L479.20,151.48 L480.67,151.15 L482.15,150.91 L483.62,150.77 L485.08,150.75 L486.53,150.87 L487.97,151.10 L489.38,151.45 L490.76,151.91 L492.11,152.47 L493.43,153.12 L494.71,153.86 L495.97,154.66 L497.20,155.53 L498.41,156.46 L499.61,157.42 L500.80,158.41 L501.98,159.43 L503.17,160.45 L504.35,161.47 L505.54,162.47 L506.75,163.46 L507.96,164.41 L509.20,165.31 L510.47,166.16 L511.76,166.94 L513.09,167.66 L514.43,168.33 L515.80,168.94 L517.18,169.51 L518.58,170.05 L519.99,170.57 L521.40,171.06 L522.82,171.54 L524.25,172.00 L525.68,172.44 L527.11,172.87 L528.55,173.28 L529.99,173.68 L531.44,174.06 L532.90,174.43 L534.36,174.78 L535.82,175.12 L537.28,175.45 L538.75,175.76 L540.23,176.06 L541.70,176.35 L543.18,176.62 L544.66,176.88 L546.15,177.14 L547.64,177.38 L549.13,177.60 L550.62,177.82 L552.12,178.03 L553.62,178.23 L555.12,178.42 L556.62,178.60 L558.12,178.77 L559.63,178.93 L561.13,179.08 L562.64,179.23 L564.15,179.37 L565.66,179.50 L567.17,179.63 L568.68,179.75 L570.19,179.86 L571.70,179.97 L573.21,180.07 L574.72,180.17 L576.23,180.26 L577.74,180.35 L579.25,180.43 L580.76,180.51 L582.26,180.59 L583.77,180.66 L585.28,180.73 L586.78,180.80 L588.29,180.86 L589.79,180.92 L591.30,180.98 L592.80,181.03 L594.31,181.08 L595.81,181.13 L597.31,181.18 L598.82,181.22 L600.32,181.26 L601.82,181.30 L603.32,181.34 L604.83,181.38 L606.33,181.41 L607.83,181.44 L609.33,181.47 L610.84,181.50 L612.34,181.53 L613.84,181.55 L615.34,181.58 L616.85,181.60 L618.35,181.62 L619.85,181.64 L621.36,181.67 L622.86,181.69 L624.37,181.70 L625.87,181.72 L627.38,181.74 L628.88,181.76 L630.39,181.78 L631.90,181.80 L633.41,181.82 L634.92,181.84 L636.42,181.86 L637.93,181.88 L639.45,181.90 L640.96,181.92 L642.47,181.94 L643.98,181.96 L645.50,181.99 L647.00,182.00 L649.00,182.03 M630.00,213.00 L628.49,213.03 L626.98,213.04 L625.47,213.06 L623.96,213.07 L622.45,213.10 L620.94,213.13 L619.43,213.16 L617.92,213.20 L616.41,213.24 L614.91,213.28 L613.40,213.33 L611.89,213.38 L610.39,213.44 L608.88,213.50 L607.38,213.56 L605.87,213.62 L604.37,213.69 L602.87,213.76 L601.36,213.84 L599.86,213.91 L598.36,213.99 L596.85,214.07 L595.35,214.15 L593.85,214.23 L592.35,214.31 L590.85,214.40 L589.34,214.48 L587.84,214.57 L586.34,214.66 L584.84,214.75 L583.34,214.83 L581.83,214.92 L580.33,215.01 L578.83,215.10 L577.33,215.19 L575.82,215.27 L574.32,215.36 L572.82,215.45 L571.31,215.53 L569.81,215.62 L568.31,215.70 L566.80,215.78 L565.30,215.86 L563.79,215.93 L562.29,216.01 L560.78,216.08 L559.27,216.15 L557.76,216.22 L556.26,216.28 L554.75,216.35 L553.24,216.41 L551.73,216.47 L550.22,216.53 L548.71,216.59 L547.20,216.65 L545.69,216.72 L544.18,216.78 L542.67,216.84 L541.16,216.90 L539.65,216.97 L538.14,217.03 L536.63,217.10 L535.13,217.17 L533.62,217.25 L532.11,217.33 L530.60,217.41 L529.09,217.49 L527.59,217.58 L526.08,217.67 L524.57,217.77 L523.07,217.87 L521.57,217.98 L520.06,218.10 L518.56,218.22 L517.06,218.34 L515.56,218.48 L514.06,218.62 L512.56,218.77 L511.06,218.92 L509.57,219.08 L508.07,219.26 L506.58,219.44 L505.08,219.63 L503.59,219.82 L502.10,220.03 L500.62,220.25 L499.13,220.47 L497.64,220.71 L496.16,220.96 L494.68,221.21 L493.20,221.47 L491.72,221.75 L490.25,222.03 L488.77,222.33 L487.30,222.63 L485.83,222.95 L484.37,223.27 L482.90,223.61 L481.44,223.95 L479.98,224.31 L478.52,224.67 L477.07,225.05 L475.62,225.44 L474.17,225.84 L472.72,226.25 L471.28,226.67 L469.84,227.10 L468.40,227.54 L466.96,227.99 L465.53,228.45 L464.09,228.91 L462.66,229.38 L461.23,229.85 L459.81,230.33 L458.38,230.81 L456.96,231.30 L455.53,231.79 L454.11,232.28 L452.69,232.78 L451.27,233.27 L449.85,233.76 L448.43,234.26 L447.01,234.75 L445.59,235.24 L444.18,235.74 L442.76,236.23 L441.34,236.73 L439.93,237.23 L438.51,237.72 L437.10,238.22 L435.68,238.72 L434.26,239.22 L432.85,239.71 L431.43,240.21 L430.01,240.72 L428.60,241.22 L427.18,241.72 L425.76,242.22 L424.34,242.73 L422.92,243.23 L421.51,243.74 L420.08,244.25 L418.66,244.76 L417.24,245.27 L415.82,245.78 L414.39,246.29 L412.97,246.80 L411.54,247.32 L410.11,247.84 L408.68,248.35 L407.25,248.87 L405.82,249.39 L404.38,249.91 L402.95,250.43 L401.51,250.94 L400.07,251.46 L398.64,251.97 L397.20,252.47 L395.75,252.98 L394.31,253.47 L392.87,253.97 L391.42,254.45 L389.97,254.93 L388.52,255.41 L387.07,255.87 L385.62,256.32 L384.17,256.77 L382.72,257.21 L381.26,257.63 L379.81,258.05 L378.35,258.45 L376.89,258.84 L375.43,259.22 L373.97,259.58 L372.51,259.93 L371.04,260.26 L369.58,260.58 L368.11,260.88 L366.65,261.17 L365.18,261.43 L363.71,261.68 L362.24,261.91 L360.76,262.12 L359.29,262.31 L357.82,262.48 L356.34,262.63 L354.86,262.76 L353.39,262.86 L351.91,262.94 L350.43,263.00 L348.95,263.03 L347.46,263.04 L345.98,263.03 L344.50,262.99 L343.01,262.94 L341.53,262.86 L340.04,262.77 L338.55,262.65 L337.06,262.52 L335.58,262.37 L334.09,262.21 L332.60,262.03 L331.11,261.84 L329.62,261.63 L328.13,261.41 L326.64,261.17 L325.15,260.93 L323.66,260.67 L322.17,260.41 L320.68,260.13 L319.19,259.85 L317.69,259.56 L316.21,259.26 L314.72,258.96 L313.23,258.65 L311.74,258.34 L310.25,258.02 L308.76,257.70 L307.27,257.38 L305.79,257.06 L304.30,256.74 L302.82,256.41 L301.33,256.09 L299.85,255.77 L298.37,255.45 L296.89,255.12 L295.40,254.80 L293.92,254.48 L292.44,254.16 L290.96,253.85 L289.48,253.53 L288.00,253.21 L286.52,252.90 L285.05,252.59 L283.57,252.28 L282.09,251.97 L280.61,251.66 L279.13,251.35 L277.66,251.05 L276.18,250.75 L274.70,250.45 L273.22,250.16 L271.75,249.87 L270.27,249.58 L268.79,249.29 L267.31,249.01 L265.84,248.73 L264.36,248.45 L262.88,248.18 L261.40,247.91 L259.92,247.65 L258.44,247.39 L256.97,247.13 L255.49,246.88 L254.01,246.64 L252.52,246.39 L251.04,246.15 L249.56,245.92 L248.08,245.69 L246.60,245.47 L245.11,245.25 L243.63,245.04 L242.14,244.84 L240.66,244.63 L239.17,244.44 L237.68,244.25 L236.19,244.07 L234.70,243.89 L233.21,243.72 L231.72,243.56 L230.23,243.40 L228.73,243.25 L227.24,243.11 L225.74,242.97 L224.25,242.84 L222.75,242.72 L221.25,242.61 L219.75,242.50 L218.24,242.40 L216.74,242.31 L215.24,242.23 L213.73,242.15 L212.22,242.09 L210.71,242.03 L209.20,241.98 L207.69,241.94 L206.17,241.91 L204.66,241.89 L203.14,241.87 L201.62,241.87 L200.10,241.87 L198.57,241.89 L197.05,241.91 L195.52,241.95 L193.99,241.99 L192.46,242.04 L191.00,241.90" fill="none" stroke="#4f4f4f" stroke-width="6" stroke-linejoin="round" stroke-linecap="butt"/>
<path d="M191.00,198.10 L192.50,198.01 L194.01,198.02 L195.53,198.03 L197.04,198.02 L198.55,198.00 L200.07,197.97 L201.58,197.93 L203.08,197.88 L204.59,197.82 L206.10,197.75 L207.60,197.67 L209.11,197.58 L210.61,197.48 L212.11,197.37 L213.62,197.25 L215.12,197.13 L216.61,196.99 L218.11,196.85 L219.61,196.70 L221.11,196.54 L222.60,196.38 L224.10,196.21 L225.59,196.03 L227.08,195.84 L228.58,195.65 L230.07,195.45 L231.56,195.24 L233.05,195.03 L234.54,194.82 L236.03,194.60 L237.52,194.37 L239.00,194.14 L240.49,193.90 L241.98,193.66 L243.46,193.42 L244.95,193.17 L246.43,192.92 L247.92,192.66 L249.40,192.40 L250.88,192.14 L252.37,191.87 L253.85,191.61 L255.33,191.34 L256.81,191.07 L258.30,190.79 L259.78,190.52 L261.26,190.24 L262.74,189.97 L264.22,189.69 L265.70,189.41 L267.18,189.13 L268.66,188.85 L270.14,188.57 L271.62,188.29 L273.10,188.01 L274.58,187.73 L276.06,187.46 L277.54,187.18 L279.02,186.91 L280.50,186.64 L281.98,186.37 L283.46,186.10 L284.94,185.83 L286.42,185.57 L287.90,185.31 L289.38,185.05 L290.86,184.80 L292.34,184.55 L293.82,184.30 L295.30,184.06 L296.79,183.83 L298.27,183.59 L299.76,183.37 L301.24,183.15 L302.73,182.93 L304.21,182.72 L305.70,182.52 L307.19,182.33 L308.68,182.14 L310.17,181.96 L311.66,181.78 L313.16,181.62 L314.65,181.46 L316.15,181.31 L317.64,181.17 L319.14,181.04 L320.64,180.91 L322.14,180.80 L323.65,180.69 L325.15,180.57 L326.65,180.46 L328.15,180.33 L329.65,180.19 L331.14,180.03 L332.64,179.85 L334.13,179.64 L335.61,179.40 L337.09,179.13 L338.57,178.83 L340.04,178.51 L341.51,178.17 L342.98,177.82 L344.44,177.46 L345.91,177.11 L347.37,176.77 L348.84,176.45 L350.31,176.15 L351.78,175.88 L353.26,175.65 L354.74,175.46 L356.22,175.31 L357.70,175.19 L359.19,175.11 L360.69,175.07 L362.18,175.07 L363.68,175.11 L365.18,175.18 L366.69,175.29 L368.19,175.43 L369.70,175.61 L371.22,175.82 L372.73,176.05 L374.24,176.29 L375.76,176.54 L377.27,176.78 L378.79,177.02 L380.30,177.24 L381.81,177.43 L383.31,177.60 L384.82,177.73 L386.32,177.81 L387.81,177.86 L389.31,177.87 L390.80,177.84 L392.28,177.77 L393.77,177.68 L395.25,177.55 L396.72,177.39 L398.20,177.20 L399.67,176.98 L401.14,176.74 L402.61,176.47 L404.07,176.18 L405.53,175.87 L406.99,175.53 L408.45,175.19 L409.91,174.82 L411.36,174.44 L412.81,174.04 L414.26,173.63 L415.71,173.22 L417.16,172.79 L418.61,172.35 L420.05,171.91 L421.50,171.46 L422.94,170.99 L424.37,170.52 L425.81,170.04 L427.25,169.55 L428.68,169.05 L430.10,168.55 L431.53,168.03 L432.95,167.51 L434.37,166.97 L435.79,166.43 L437.20,165.88 L438.61,165.31 L440.01,164.74 L441.41,164.16 L442.81,163.57 L444.20,162.98 L445.59,162.37 L446.97,161.75 L448.35,161.12 L449.72,160.49 L451.09,159.84 L452.45,159.19 L453.81,158.53 L455.16,157.85 L456.51,157.17 L457.84,156.48 L459.18,155.78 L460.50,155.07 L461.83,154.35 L463.14,153.62 L464.45,152.88 L465.75,152.13 L467.04,151.37 L468.33,150.60 L469.61,149.82 L470.88,149.03 L472.14,148.24 L473.40,147.43 L474.64,146.61 L475.88,145.79 L477.11,144.95 L478.34,144.10 L479.55,143.25 L480.76,142.38 L481.95,141.51 L483.15,140.62 L484.33,139.73 L485.51,138.83 L486.69,137.93 L487.86,137.02 L489.03,136.10 L490.21,135.18 L491.38,134.26 L492.56,133.33 L493.73,132.40 L494.91,131.47 L496.10,130.53 L497.29,129.60 L498.49,128.67 L499.70,127.73 L500.92,126.80 L502.14,125.88 L503.38,124.97 L504.63,124.07 L505.89,123.19 L507.17,122.33 L508.46,121.50 L509.77,120.69 L511.09,119.91 L512.43,119.17 L513.79,118.47 L515.17,117.80 L516.57,117.18 L517.99,116.61 L519.43,116.10 L520.88,115.64 L522.34,115.26 L523.81,114.96 L525.27,114.75 L526.73,114.63 L528.17,114.61 L529.61,114.71 L531.02,114.93 L532.40,115.25 L533.75,115.68 L535.07,116.22 L536.35,116.86 L537.59,117.59 L538.78,118.41 L539.91,119.33 L541.00,120.33 L542.03,121.40 L543.04,122.53 L544.00,123.71 L544.95,124.93 L545.87,126.19 L546.79,127.47 L547.70,128.76 L548.61,130.05 L549.53,131.33 L550.46,132.60 L551.41,133.84 L552.40,135.04 L553.41,136.19 L554.47,137.29 L555.56,138.33 L556.69,139.32 L557.85,140.26 L559.04,141.16 L560.26,142.00 L561.51,142.81 L562.78,143.57 L564.08,144.28 L565.39,144.97 L566.73,145.61 L568.08,146.22 L569.44,146.80 L570.82,147.34 L572.21,147.86 L573.61,148.35 L575.01,148.81 L576.43,149.25 L577.86,149.65 L579.30,150.04 L580.74,150.39 L582.20,150.72 L583.66,151.03 L585.13,151.32 L586.60,151.58 L588.08,151.83 L589.57,152.05 L591.07,152.25 L592.57,152.43 L594.07,152.60 L595.58,152.74 L597.10,152.87 L598.61,152.98 L600.13,153.08 L601.66,153.16 L603.19,153.23 L604.72,153.28 L606.25,153.32 L607.78,153.35 L609.31,153.36 L610.85,153.37 L612.38,153.36 L613.92,153.35 L615.45,153.33 L616.99,153.30 L618.52,153.26 L620.05,153.21 L621.58,153.16 L623.11,153.11 L624.63,153.05 L626.15,152.98 L627.67,152.91 L629.19,152.85 L630.69,152.77 L632.20,152.70 L633.70,152.63 L635.19,152.56 L636.68,152.49 L638.16,152.42 L639.64,152.35 L641.11,152.29 L642.57,152.23 L644.02,152.18 L645.47,152.13 L647.00,152.00 L649.00,151.88 M649.00,203.28 L647.00,203.60 L645.53,203.85 L644.03,204.07 L642.53,204.30 L641.03,204.53 L639.53,204.77 L638.04,205.01 L636.55,205.25 L635.06,205.50 L633.57,205.76 L632.08,206.01 L630.59,206.27 L629.11,206.54 L627.63,206.80 L626.15,207.07 L624.67,207.35 L623.19,207.62 L621.71,207.90 L620.23,208.18 L618.76,208.47 L617.28,208.76 L615.81,209.04 L614.34,209.34 L612.87,209.63 L611.39,209.92 L609.92,210.22 L608.45,210.52 L606.98,210.82 L605.52,211.12 L604.05,211.42 L602.58,211.72 L601.11,212.02 L599.64,212.33 L598.17,212.63 L596.71,212.94 L595.24,213.24 L593.77,213.55 L592.30,213.85 L590.83,214.16 L589.37,214.46 L587.90,214.77 L586.43,215.07 L584.96,215.37 L583.49,215.67 L582.02,215.97 L580.54,216.27 L579.07,216.57 L577.60,216.87 L576.12,217.16 L574.65,217.45 L573.17,217.74 L571.69,218.03 L570.22,218.32 L568.74,218.60 L567.25,218.89 L565.77,219.17 L564.29,219.44 L562.80,219.71 L561.31,219.99 L559.83,220.25 L558.33,220.52 L556.84,220.78 L555.35,221.04 L553.85,221.29 L552.36,221.55 L550.86,221.80 L549.37,222.06 L547.87,222.32 L546.38,222.57 L544.88,222.83 L543.38,223.09 L541.89,223.35 L540.40,223.62 L538.90,223.89 L537.41,224.16 L535.92,224.44 L534.44,224.72 L532.95,225.01 L531.47,225.30 L529.99,225.61 L528.51,225.91 L527.03,226.23 L525.56,226.55 L524.09,226.89 L522.63,227.23 L521.17,227.58 L519.71,227.94 L518.26,228.32 L516.81,228.70 L515.37,229.10 L513.93,229.51 L512.49,229.93 L511.06,230.36 L509.64,230.81 L508.23,231.27 L506.81,231.75 L505.41,232.25 L504.01,232.76 L502.62,233.28 L501.24,233.83 L499.86,234.39 L498.49,234.97 L497.13,235.56 L495.77,236.18 L494.42,236.82 L493.08,237.47 L491.75,238.14 L490.42,238.82 L489.10,239.52 L487.78,240.24 L486.47,240.96 L485.17,241.70 L483.86,242.44 L482.56,243.20 L481.26,243.96 L479.97,244.73 L478.68,245.50 L477.38,246.28 L476.09,247.06 L474.80,247.84 L473.51,248.62 L472.22,249.41 L470.93,250.19 L469.63,250.97 L468.33,251.74 L467.04,252.51 L465.73,253.28 L464.43,254.03 L463.12,254.78 L461.81,255.53 L460.49,256.27 L459.18,257.01 L457.86,257.74 L456.54,258.46 L455.22,259.19 L453.89,259.91 L452.57,260.62 L451.24,261.34 L449.92,262.05 L448.59,262.76 L447.26,263.47 L445.93,264.18 L444.60,264.88 L443.27,265.58 L441.93,266.28 L440.60,266.98 L439.27,267.67 L437.93,268.36 L436.59,269.05 L435.26,269.74 L433.92,270.42 L432.58,271.10 L431.24,271.78 L429.90,272.46 L428.55,273.14 L427.21,273.81 L425.87,274.48 L424.52,275.15 L423.18,275.81 L421.83,276.48 L420.48,277.14 L419.14,277.79 L417.79,278.45 L416.44,279.10 L415.09,279.76 L413.74,280.41 L412.38,281.05 L411.03,281.70 L409.67,282.34 L408.32,282.98 L406.95,283.61 L405.59,284.25 L404.23,284.88 L402.86,285.51 L401.49,286.13 L400.11,286.75 L398.73,287.37 L397.35,287.99 L395.96,288.60 L394.57,289.21 L393.18,289.82 L391.78,290.43 L390.37,291.02 L388.96,291.62 L387.54,292.20 L386.12,292.77 L384.70,293.33 L383.27,293.86 L381.84,294.38 L380.40,294.88 L378.96,295.34 L377.51,295.78 L376.06,296.19 L374.61,296.57 L373.15,296.91 L371.69,297.21 L370.23,297.48 L368.76,297.71 L367.29,297.90 L365.82,298.07 L364.35,298.20 L362.87,298.29 L361.40,298.36 L359.92,298.39 L358.43,298.40 L356.95,298.38 L355.47,298.32 L353.99,298.25 L352.50,298.14 L351.02,298.01 L349.54,297.85 L348.05,297.68 L346.57,297.47 L345.09,297.25 L343.61,297.00 L342.13,296.74 L340.65,296.45 L339.18,296.15 L337.71,295.83 L336.24,295.49 L334.77,295.13 L333.30,294.76 L331.84,294.38 L330.38,293.98 L328.93,293.56 L327.48,293.14 L326.03,292.70 L324.58,292.26 L323.14,291.80 L321.71,291.33 L320.28,290.86 L318.85,290.37 L317.42,289.88 L315.99,289.37 L314.57,288.86 L313.15,288.35 L311.74,287.83 L310.32,287.30 L308.91,286.76 L307.50,286.22 L306.09,285.68 L304.68,285.13 L303.28,284.58 L301.87,284.02 L300.47,283.47 L299.07,282.91 L297.66,282.34 L296.26,281.78 L294.86,281.22 L293.46,280.66 L292.06,280.09 L290.66,279.53 L289.26,278.97 L287.86,278.41 L286.46,277.85 L285.05,277.30 L283.65,276.75 L282.25,276.20 L280.84,275.66 L279.43,275.12 L278.03,274.59 L276.62,274.06 L275.20,273.54 L273.79,273.03 L272.37,272.52 L270.96,272.02 L269.54,271.53 L268.11,271.05 L266.69,270.57 L265.26,270.11 L263.82,269.65 L262.39,269.21 L260.95,268.78 L259.51,268.36 L258.06,267.95 L256.61,267.55 L255.16,267.17 L253.70,266.79 L252.24,266.43 L250.78,266.08 L249.31,265.74 L247.84,265.41 L246.37,265.10 L244.89,264.79 L243.42,264.49 L241.94,264.21 L240.45,263.93 L238.97,263.66 L237.48,263.41 L235.99,263.16 L234.50,262.92 L233.01,262.69 L231.52,262.47 L230.02,262.26 L228.52,262.06 L227.02,261.87 L225.53,261.68 L224.03,261.50 L222.52,261.33 L221.02,261.17 L219.52,261.02 L218.02,260.87 L216.51,260.73 L215.01,260.60 L213.51,260.47 L212.00,260.35 L210.50,260.24 L208.99,260.13 L207.49,260.03 L205.99,259.93 L204.49,259.84 L202.98,259.76 L201.48,259.68 L199.98,259.61 L198.49,259.54 L196.99,259.47 L195.49,259.42 L194.00,259.36 L192.51,259.31 L191.00,259.30" fill="none" stroke="#ee3c3e" stroke-width="6" stroke-linejoin="round" stroke-linecap="butt"/>
<path d="M191.00,195.80 L192.49,195.70 L194.01,195.62 L195.52,195.54 L197.03,195.45 L198.54,195.35 L200.05,195.25 L201.56,195.14 L203.06,195.02 L204.57,194.90 L206.07,194.77 L207.57,194.64 L209.07,194.50 L210.57,194.36 L212.07,194.21 L213.57,194.05 L215.06,193.89 L216.56,193.72 L218.05,193.55 L219.54,193.37 L221.03,193.19 L222.52,193.00 L224.01,192.81 L225.50,192.61 L226.98,192.41 L228.47,192.20 L229.95,191.99 L231.44,191.77 L232.92,191.55 L234.40,191.32 L235.88,191.09 L237.36,190.86 L238.84,190.62 L240.32,190.37 L241.80,190.12 L243.28,189.87 L244.76,189.61 L246.23,189.35 L247.71,189.08 L249.18,188.81 L250.66,188.54 L252.13,188.26 L253.61,187.98 L255.08,187.69 L256.56,187.40 L258.03,187.11 L259.50,186.82 L260.98,186.52 L262.45,186.21 L263.92,185.91 L265.39,185.60 L266.87,185.28 L268.34,184.97 L269.81,184.65 L271.28,184.32 L272.75,184.00 L274.23,183.67 L275.70,183.34 L277.17,183.00 L278.64,182.67 L280.12,182.33 L281.59,181.99 L283.06,181.64 L284.54,181.29 L286.01,180.95 L287.49,180.60 L288.96,180.25 L290.44,179.90 L291.91,179.56 L293.39,179.22 L294.86,178.88 L296.34,178.54 L297.82,178.21 L299.30,177.89 L300.77,177.57 L302.25,177.26 L303.73,176.96 L305.21,176.66 L306.69,176.38 L308.17,176.11 L309.65,175.84 L311.14,175.59 L312.62,175.36 L314.10,175.13 L315.59,174.92 L317.07,174.73 L318.56,174.55 L320.04,174.38 L321.53,174.24 L323.02,174.11 L324.51,174.00 L326.00,173.91 L327.49,173.84 L328.98,173.79 L330.47,173.77 L331.96,173.77 L333.46,173.79 L334.95,173.83 L336.45,173.90 L337.94,173.99 L339.44,174.11 L340.94,174.24 L342.44,174.40 L343.94,174.56 L345.44,174.74 L346.94,174.93 L348.44,175.12 L349.94,175.31 L351.44,175.51 L352.94,175.70 L354.44,175.89 L355.94,176.07 L357.44,176.25 L358.94,176.41 L360.44,176.55 L361.94,176.68 L363.44,176.78 L364.93,176.87 L366.43,176.92 L367.93,176.95 L369.42,176.95 L370.91,176.92 L372.40,176.86 L373.89,176.76 L375.38,176.64 L376.86,176.49 L378.35,176.32 L379.82,176.12 L381.30,175.89 L382.77,175.63 L384.24,175.36 L385.71,175.06 L387.17,174.73 L388.63,174.38 L390.08,174.02 L391.53,173.63 L392.98,173.22 L394.42,172.79 L395.86,172.35 L397.30,171.89 L398.73,171.42 L400.16,170.93 L401.59,170.42 L403.01,169.91 L404.43,169.38 L405.85,168.84 L407.27,168.28 L408.68,167.73 L410.09,167.16 L411.49,166.58 L412.90,166.00 L414.30,165.41 L415.69,164.82 L417.09,164.22 L418.48,163.62 L419.87,163.02 L421.26,162.41 L422.65,161.81 L424.03,161.21 L425.41,160.60 L426.79,160.01 L428.16,159.41 L429.54,158.82 L430.91,158.23 L432.28,157.65 L433.65,157.07 L435.02,156.51 L436.38,155.94 L437.75,155.38 L439.11,154.81 L440.48,154.25 L441.84,153.69 L443.21,153.12 L444.58,152.55 L445.95,151.98 L447.32,151.40 L448.69,150.81 L450.07,150.21 L451.45,149.60 L452.83,148.98 L454.22,148.34 L455.61,147.69 L457.01,147.03 L458.41,146.35 L459.81,145.65 L461.23,144.95 L462.64,144.24 L464.06,143.54 L465.48,142.84 L466.90,142.16 L468.33,141.50 L469.75,140.87 L471.17,140.27 L472.60,139.71 L474.02,139.19 L475.44,138.72 L476.86,138.31 L478.27,137.96 L479.68,137.68 L481.09,137.47 L482.49,137.35 L483.89,137.30 L485.28,137.35 L486.66,137.49 L488.03,137.72 L489.40,138.03 L490.76,138.41 L492.12,138.86 L493.46,139.39 L494.80,139.97 L496.14,140.60 L497.46,141.29 L498.78,142.03 L500.09,142.80 L501.39,143.61 L502.68,144.45 L503.96,145.31 L505.24,146.20 L506.51,147.10 L507.77,148.01 L509.03,148.92 L510.28,149.84 L511.53,150.75 L512.78,151.64 L514.04,152.52 L515.30,153.38 L516.58,154.21 L517.86,155.01 L519.15,155.78 L520.46,156.50 L521.79,157.19 L523.12,157.84 L524.47,158.45 L525.83,159.03 L527.20,159.58 L528.59,160.09 L529.98,160.57 L531.39,161.02 L532.80,161.44 L534.23,161.83 L535.66,162.20 L537.11,162.53 L538.56,162.84 L540.02,163.13 L541.48,163.39 L542.96,163.63 L544.44,163.85 L545.93,164.05 L547.42,164.23 L548.92,164.39 L550.42,164.53 L551.93,164.65 L553.44,164.76 L554.96,164.86 L556.48,164.94 L558.00,165.01 L559.53,165.06 L561.05,165.11 L562.58,165.14 L564.11,165.17 L565.64,165.19 L567.18,165.20 L568.71,165.21 L570.24,165.21 L571.77,165.21 L573.30,165.21 L574.83,165.20 L576.35,165.20 L577.87,165.19 L579.40,165.19 L580.91,165.18 L582.43,165.18 L583.94,165.18 L585.45,165.18 L586.96,165.19 L588.46,165.19 L589.97,165.19 L591.47,165.20 L592.97,165.20 L594.47,165.21 L595.96,165.22 L597.46,165.22 L598.95,165.23 L600.45,165.24 L601.94,165.25 L603.43,165.26 L604.92,165.26 L606.42,165.27 L607.91,165.28 L609.40,165.29 L610.89,165.30 L612.38,165.31 L613.87,165.31 L615.36,165.32 L616.85,165.33 L618.35,165.33 L619.84,165.34 L621.33,165.34 L622.83,165.34 L624.33,165.34 L625.83,165.34 L627.33,165.34 L628.83,165.34 L630.33,165.34 L631.84,165.33 L633.34,165.33 L634.85,165.32 L636.37,165.31 L637.88,165.30 L639.40,165.29 L640.92,165.27 L642.44,165.25 L643.97,165.23 L645.50,165.21 L647.00,165.20 L649.00,165.18 M649.00,210.07 L647.00,210.30 L645.51,210.50 L644.00,210.65 L642.50,210.81 L641.00,210.98 L639.50,211.15 L638.00,211.33 L636.50,211.52 L635.01,211.71 L633.51,211.91 L632.02,212.11 L630.52,212.32 L629.03,212.53 L627.54,212.75 L626.05,212.97 L624.55,213.19 L623.06,213.42 L621.57,213.65 L620.08,213.88 L618.59,214.11 L617.10,214.34 L615.61,214.58 L614.12,214.81 L612.63,215.05 L611.14,215.28 L609.65,215.52 L608.17,215.75 L606.68,215.98 L605.19,216.21 L603.70,216.44 L602.20,216.66 L600.71,216.89 L599.22,217.10 L597.73,217.32 L596.24,217.53 L594.75,217.74 L593.25,217.94 L591.76,218.14 L590.26,218.33 L588.77,218.52 L587.27,218.70 L585.77,218.87 L584.27,219.03 L582.77,219.19 L581.27,219.34 L579.77,219.49 L578.27,219.63 L576.76,219.76 L575.26,219.89 L573.75,220.01 L572.25,220.12 L570.74,220.24 L569.24,220.34 L567.73,220.45 L566.22,220.55 L564.71,220.65 L563.20,220.75 L561.69,220.84 L560.18,220.93 L558.68,221.02 L557.17,221.11 L555.66,221.21 L554.15,221.30 L552.64,221.39 L551.13,221.48 L549.62,221.57 L548.11,221.66 L546.60,221.76 L545.09,221.86 L543.58,221.96 L542.08,222.06 L540.57,222.17 L539.06,222.28 L537.56,222.39 L536.05,222.51 L534.55,222.64 L533.05,222.77 L531.54,222.90 L530.04,223.05 L528.54,223.19 L527.04,223.35 L525.54,223.51 L524.05,223.68 L522.55,223.86 L521.05,224.05 L519.56,224.25 L518.07,224.45 L516.58,224.67 L515.09,224.89 L513.60,225.12 L512.11,225.36 L510.63,225.61 L509.15,225.87 L507.66,226.14 L506.18,226.42 L504.70,226.70 L503.23,226.99 L501.75,227.29 L500.28,227.60 L498.80,227.92 L497.33,228.24 L495.86,228.57 L494.40,228.91 L492.93,229.26 L491.46,229.61 L490.00,229.97 L488.54,230.34 L487.08,230.71 L485.62,231.10 L484.17,231.49 L482.71,231.88 L481.26,232.28 L479.81,232.69 L478.36,233.11 L476.92,233.53 L475.47,233.96 L474.03,234.39 L472.59,234.83 L471.15,235.28 L469.71,235.73 L468.28,236.19 L466.85,236.65 L465.42,237.12 L463.99,237.59 L462.56,238.07 L461.14,238.56 L459.71,239.05 L458.29,239.54 L456.88,240.04 L455.46,240.54 L454.05,241.05 L452.64,241.57 L451.23,242.09 L449.82,242.61 L448.41,243.14 L447.01,243.67 L445.61,244.20 L444.21,244.74 L442.81,245.28 L441.41,245.82 L440.01,246.37 L438.62,246.92 L437.22,247.47 L435.82,248.03 L434.43,248.58 L433.03,249.14 L431.64,249.70 L430.24,250.26 L428.84,250.82 L427.44,251.39 L426.04,251.95 L424.64,252.52 L423.24,253.08 L421.84,253.65 L420.43,254.21 L419.03,254.78 L417.62,255.34 L416.21,255.90 L414.79,256.47 L413.38,257.03 L411.96,257.58 L410.55,258.14 L409.12,258.69 L407.70,259.24 L406.28,259.78 L404.85,260.32 L403.42,260.85 L402.00,261.38 L400.56,261.91 L399.13,262.42 L397.70,262.93 L396.26,263.44 L394.82,263.94 L393.38,264.42 L391.94,264.90 L390.49,265.38 L389.05,265.84 L387.60,266.29 L386.15,266.74 L384.70,267.17 L383.25,267.59 L381.79,268.01 L380.34,268.41 L378.88,268.79 L377.42,269.17 L375.96,269.53 L374.50,269.88 L373.03,270.22 L371.57,270.54 L370.10,270.85 L368.63,271.14 L367.16,271.42 L365.69,271.68 L364.21,271.93 L362.74,272.16 L361.26,272.37 L359.78,272.57 L358.30,272.74 L356.82,272.90 L355.33,273.04 L353.85,273.17 L352.36,273.27 L350.88,273.35 L349.39,273.41 L347.90,273.46 L346.40,273.48 L344.91,273.49 L343.42,273.47 L341.92,273.44 L340.42,273.40 L338.93,273.33 L337.43,273.26 L335.93,273.16 L334.43,273.06 L332.93,272.93 L331.43,272.80 L329.93,272.65 L328.43,272.49 L326.92,272.32 L325.42,272.14 L323.92,271.95 L322.42,271.74 L320.92,271.53 L319.42,271.31 L317.92,271.08 L316.42,270.85 L314.92,270.61 L313.42,270.36 L311.92,270.10 L310.42,269.84 L308.92,269.58 L307.43,269.31 L305.93,269.04 L304.44,268.76 L302.94,268.49 L301.45,268.21 L299.96,267.93 L298.47,267.64 L296.98,267.36 L295.49,267.07 L294.01,266.78 L292.52,266.49 L291.03,266.20 L289.55,265.91 L288.06,265.62 L286.58,265.33 L285.10,265.04 L283.61,264.74 L282.13,264.45 L280.65,264.16 L279.17,263.87 L277.69,263.58 L276.21,263.29 L274.73,263.00 L273.25,262.71 L271.77,262.42 L270.29,262.14 L268.81,261.86 L267.33,261.58 L265.85,261.30 L264.37,261.02 L262.89,260.75 L261.41,260.48 L259.93,260.21 L258.45,259.94 L256.97,259.68 L255.49,259.42 L254.01,259.17 L252.53,258.92 L251.04,258.67 L249.56,258.42 L248.08,258.19 L246.60,257.95 L245.11,257.72 L243.63,257.50 L242.14,257.28 L240.66,257.07 L239.17,256.86 L237.68,256.65 L236.19,256.46 L234.70,256.27 L233.21,256.08 L231.72,255.90 L230.23,255.73 L228.74,255.57 L227.24,255.41 L225.75,255.26 L224.25,255.11 L222.75,254.98 L221.26,254.85 L219.75,254.73 L218.25,254.61 L216.75,254.51 L215.25,254.41 L213.74,254.33 L212.23,254.25 L210.72,254.18 L209.21,254.12 L207.70,254.07 L206.18,254.02 L204.67,253.99 L203.15,253.97 L201.63,253.96 L200.11,253.96 L198.59,253.96 L197.06,253.98 L195.53,254.01 L194.00,254.06 L192.47,254.11 L191.00,254.00" fill="none" stroke="#1e6bdc" stroke-width="6" stroke-linejoin="round" stroke-linecap="butt"/>
<path d="M191.00,118.70 L192.51,118.65 L194.03,118.64 L195.55,118.65 L197.06,118.67 L198.57,118.70 L200.08,118.74 L201.59,118.79 L203.10,118.86 L204.61,118.93 L206.11,119.01 L207.62,119.11 L209.12,119.21 L210.62,119.32 L212.13,119.44 L213.63,119.56 L215.13,119.69 L216.63,119.83 L218.12,119.98 L219.62,120.13 L221.12,120.28 L222.61,120.45 L224.11,120.61 L225.61,120.78 L227.10,120.95 L228.60,121.13 L230.09,121.31 L231.59,121.49 L233.08,121.67 L234.57,121.86 L236.07,122.04 L237.56,122.22 L239.06,122.41 L240.55,122.59 L242.05,122.78 L243.54,122.96 L245.04,123.14 L246.53,123.32 L248.03,123.49 L249.53,123.66 L251.03,123.83 L252.52,123.99 L254.02,124.15 L255.52,124.31 L257.02,124.46 L258.53,124.60 L260.03,124.74 L261.53,124.87 L263.04,124.99 L264.54,125.11 L266.05,125.22 L267.56,125.32 L269.06,125.42 L270.57,125.51 L272.08,125.60 L273.59,125.68 L275.10,125.75 L276.61,125.82 L278.12,125.88 L279.63,125.94 L281.14,125.99 L282.66,126.03 L284.17,126.07 L285.68,126.10 L287.19,126.13 L288.71,126.15 L290.22,126.17 L291.73,126.18 L293.24,126.18 L294.76,126.18 L296.27,126.18 L297.78,126.17 L299.29,126.15 L300.80,126.13 L302.31,126.10 L303.82,126.07 L305.33,126.03 L306.84,125.99 L308.35,125.94 L309.86,125.88 L311.37,125.83 L312.87,125.76 L314.38,125.69 L315.89,125.62 L317.39,125.54 L318.89,125.46 L320.40,125.37 L321.90,125.28 L323.40,125.19 L324.90,125.09 L326.40,124.98 L327.90,124.87 L329.40,124.76 L330.90,124.64 L332.39,124.52 L333.89,124.39 L335.39,124.26 L336.88,124.13 L338.38,123.99 L339.87,123.85 L341.37,123.70 L342.86,123.55 L344.36,123.40 L345.85,123.25 L347.35,123.09 L348.84,122.92 L350.33,122.76 L351.83,122.59 L353.32,122.42 L354.81,122.24 L356.31,122.06 L357.80,121.88 L359.29,121.70 L360.79,121.51 L362.28,121.32 L363.78,121.13 L365.27,120.93 L366.76,120.74 L368.26,120.54 L369.75,120.34 L371.25,120.13 L372.75,119.93 L374.24,119.72 L375.74,119.51 L377.24,119.29 L378.74,119.08 L380.23,118.86 L381.73,118.65 L383.23,118.43 L384.73,118.21 L386.23,117.98 L387.74,117.76 L389.24,117.53 L390.74,117.30 L392.24,117.07 L393.75,116.83 L395.25,116.59 L396.75,116.35 L398.25,116.10 L399.75,115.84 L401.25,115.58 L402.74,115.32 L404.24,115.04 L405.73,114.76 L407.22,114.47 L408.70,114.18 L410.19,113.87 L411.67,113.56 L413.15,113.23 L414.62,112.90 L416.09,112.55 L417.56,112.20 L419.02,111.83 L420.48,111.45 L421.94,111.06 L423.39,110.66 L424.83,110.24 L426.27,109.81 L427.70,109.37 L429.13,108.91 L430.55,108.44 L431.97,107.95 L433.38,107.44 L434.78,106.92 L436.17,106.38 L437.56,105.83 L438.94,105.26 L440.32,104.68 L441.69,104.08 L443.05,103.46 L444.41,102.83 L445.76,102.18 L447.10,101.52 L448.44,100.84 L449.77,100.16 L451.09,99.45 L452.40,98.73 L453.71,98.00 L455.02,97.26 L456.31,96.50 L457.60,95.73 L458.89,94.94 L460.17,94.15 L461.44,93.34 L462.70,92.52 L463.96,91.69 L465.21,90.84 L466.46,89.99 L467.69,89.12 L468.93,88.24 L470.15,87.35 L471.37,86.45 L472.59,85.54 L473.79,84.62 L474.99,83.69 L476.19,82.75 L477.38,81.80 L478.56,80.84 L479.74,79.87 L480.90,78.89 L482.07,77.90 L483.23,76.91 L484.38,75.91 L485.53,74.90 L486.67,73.89 L487.82,72.88 L488.97,71.87 L490.12,70.87 L491.27,69.87 L492.43,68.88 L493.60,67.90 L494.77,66.93 L495.95,65.98 L497.15,65.04 L498.35,64.12 L499.57,63.22 L500.81,62.34 L502.06,61.49 L503.33,60.66 L504.62,59.86 L505.94,59.10 L507.27,58.36 L508.62,57.66 L510.00,56.99 L511.39,56.36 L512.80,55.77 L514.22,55.21 L515.66,54.69 L517.11,54.21 L518.57,53.78 L520.03,53.38 L521.51,53.03 L522.99,52.72 L524.47,52.46 L525.96,52.24 L527.45,52.07 L528.94,51.95 L530.42,51.87 L531.91,51.85 L533.38,51.87 L534.85,51.95 L536.32,52.09 L537.77,52.27 L539.21,52.51 L540.64,52.81 L542.06,53.17 L543.46,53.58 L544.84,54.05 L546.21,54.58 L547.56,55.16 L548.89,55.80 L550.21,56.47 L551.52,57.19 L552.82,57.95 L554.11,58.74 L555.40,59.56 L556.67,60.41 L557.94,61.27 L559.20,62.15 L560.47,63.05 L561.73,63.96 L562.99,64.87 L564.25,65.78 L565.51,66.68 L566.78,67.58 L568.06,68.47 L569.34,69.34 L570.62,70.20 L571.92,71.03 L573.22,71.83 L574.54,72.60 L575.87,73.34 L577.22,74.03 L578.58,74.68 L579.96,75.29 L581.35,75.85 L582.75,76.37 L584.17,76.86 L585.60,77.31 L587.04,77.72 L588.50,78.10 L589.96,78.46 L591.43,78.79 L592.90,79.09 L594.38,79.38 L595.87,79.64 L597.37,79.89 L598.86,80.12 L600.36,80.34 L601.86,80.55 L603.36,80.75 L604.86,80.94 L606.36,81.13 L607.86,81.31 L609.36,81.48 L610.86,81.65 L612.37,81.80 L613.87,81.96 L615.37,82.10 L616.88,82.24 L618.38,82.37 L619.88,82.49 L621.39,82.61 L622.89,82.72 L624.40,82.82 L625.90,82.92 L627.41,83.01 L628.91,83.09 L630.42,83.17 L631.92,83.24 L633.43,83.30 L634.94,83.36 L636.44,83.41 L637.95,83.45 L639.46,83.49 L640.97,83.53 L642.47,83.55 L643.98,83.57 L645.49,83.59 L647.00,83.60 L649.00,83.62 M649.00,212.30 L648.00,213.00 L646.71,213.85 L645.48,214.76 L644.23,215.62 L642.96,216.43 L641.67,217.19 L640.37,217.90 L639.05,218.57 L637.72,219.21 L636.37,219.81 L635.01,220.38 L633.63,220.92 L632.25,221.44 L630.85,221.94 L629.45,222.42 L628.04,222.88 L626.62,223.34 L625.19,223.79 L623.76,224.23 L622.33,224.66 L620.89,225.09 L619.44,225.51 L618.00,225.92 L616.54,226.33 L615.09,226.74 L613.63,227.14 L612.18,227.54 L610.72,227.93 L609.25,228.32 L607.79,228.71 L606.33,229.09 L604.86,229.47 L603.40,229.85 L601.94,230.23 L600.47,230.61 L599.01,230.98 L597.54,231.35 L596.08,231.72 L594.61,232.09 L593.15,232.45 L591.68,232.82 L590.22,233.18 L588.75,233.54 L587.29,233.90 L585.82,234.26 L584.36,234.62 L582.89,234.98 L581.43,235.33 L579.96,235.69 L578.50,236.04 L577.03,236.40 L575.57,236.75 L574.10,237.10 L572.64,237.46 L571.17,237.81 L569.71,238.16 L568.24,238.51 L566.78,238.86 L565.31,239.21 L563.85,239.56 L562.38,239.92 L560.92,240.27 L559.46,240.62 L557.99,240.97 L556.53,241.32 L555.06,241.68 L553.60,242.03 L552.14,242.39 L550.67,242.74 L549.21,243.10 L547.75,243.46 L546.29,243.81 L544.82,244.17 L543.36,244.54 L541.90,244.90 L540.44,245.26 L538.98,245.63 L537.52,245.99 L536.05,246.36 L534.59,246.73 L533.13,247.10 L531.67,247.48 L530.21,247.85 L528.76,248.23 L527.30,248.61 L525.84,248.99 L524.38,249.38 L522.92,249.77 L521.46,250.16 L520.01,250.55 L518.55,250.94 L517.09,251.34 L515.64,251.74 L514.18,252.15 L512.73,252.55 L511.28,252.96 L509.82,253.38 L508.37,253.80 L506.92,254.22 L505.47,254.64 L504.03,255.08 L502.58,255.51 L501.13,255.95 L499.69,256.40 L498.25,256.85 L496.81,257.31 L495.38,257.77 L493.94,258.24 L492.51,258.71 L491.08,259.19 L489.65,259.68 L488.23,260.17 L486.81,260.67 L485.39,261.18 L483.98,261.69 L482.56,262.21 L481.16,262.74 L479.75,263.28 L478.35,263.82 L476.95,264.38 L475.56,264.94 L474.17,265.51 L472.78,266.09 L471.40,266.67 L470.02,267.27 L468.65,267.88 L467.28,268.49 L465.92,269.12 L464.56,269.75 L463.20,270.40 L461.85,271.06 L460.51,271.72 L459.17,272.40 L457.84,273.09 L456.51,273.79 L455.19,274.50 L453.87,275.22 L452.56,275.95 L451.25,276.70 L449.95,277.45 L448.65,278.22 L447.36,278.99 L446.08,279.77 L444.79,280.56 L443.51,281.36 L442.23,282.16 L440.96,282.97 L439.68,283.78 L438.41,284.59 L437.14,285.41 L435.87,286.23 L434.61,287.05 L433.34,287.88 L432.07,288.70 L430.80,289.52 L429.53,290.34 L428.26,291.16 L426.99,291.98 L425.72,292.79 L424.44,293.60 L423.16,294.40 L421.88,295.20 L420.59,295.99 L419.30,296.78 L418.01,297.56 L416.71,298.32 L415.41,299.08 L414.10,299.83 L412.79,300.57 L411.47,301.30 L410.14,302.01 L408.81,302.71 L407.47,303.40 L406.12,304.08 L404.77,304.73 L403.40,305.38 L402.03,306.00 L400.65,306.61 L399.27,307.21 L397.87,307.79 L396.47,308.35 L395.06,308.90 L393.65,309.43 L392.23,309.95 L390.80,310.45 L389.37,310.93 L387.93,311.40 L386.48,311.85 L385.03,312.29 L383.58,312.71 L382.12,313.12 L380.66,313.51 L379.19,313.88 L377.72,314.24 L376.24,314.59 L374.76,314.92 L373.28,315.23 L371.79,315.53 L370.31,315.81 L368.82,316.07 L367.32,316.33 L365.83,316.56 L364.33,316.78 L362.83,316.99 L361.33,317.17 L359.83,317.35 L358.33,317.51 L356.83,317.65 L355.33,317.78 L353.82,317.89 L352.32,317.99 L350.82,318.07 L349.32,318.14 L347.81,318.19 L346.31,318.23 L344.81,318.25 L343.31,318.26 L341.81,318.26 L340.32,318.24 L338.82,318.21 L337.32,318.17 L335.82,318.11 L334.33,318.04 L332.83,317.96 L331.33,317.87 L329.84,317.77 L328.34,317.66 L326.85,317.54 L325.36,317.40 L323.86,317.26 L322.37,317.11 L320.88,316.95 L319.38,316.78 L317.89,316.60 L316.40,316.41 L314.91,316.22 L313.42,316.01 L311.92,315.80 L310.43,315.59 L308.94,315.36 L307.45,315.13 L305.96,314.90 L304.47,314.65 L302.98,314.41 L301.50,314.15 L300.01,313.90 L298.52,313.64 L297.03,313.37 L295.54,313.10 L294.05,312.83 L292.56,312.55 L291.08,312.27 L289.59,311.99 L288.10,311.71 L286.61,311.42 L285.13,311.14 L283.64,310.85 L282.15,310.56 L280.67,310.27 L279.18,309.98 L277.69,309.69 L276.21,309.40 L274.72,309.11 L273.23,308.82 L271.75,308.53 L270.26,308.25 L268.77,307.96 L267.29,307.68 L265.80,307.40 L264.31,307.13 L262.83,306.85 L261.34,306.58 L259.85,306.32 L258.37,306.06 L256.88,305.80 L255.39,305.55 L253.90,305.30 L252.42,305.05 L250.93,304.81 L249.44,304.58 L247.95,304.34 L246.47,304.12 L244.98,303.89 L243.49,303.68 L242.00,303.46 L240.51,303.25 L239.02,303.05 L237.53,302.85 L236.04,302.65 L234.55,302.46 L233.06,302.27 L231.56,302.09 L230.07,301.91 L228.58,301.73 L227.08,301.56 L225.59,301.40 L224.10,301.24 L222.60,301.08 L221.10,300.93 L219.61,300.78 L218.11,300.64 L216.61,300.50 L215.11,300.37 L213.61,300.24 L212.11,300.11 L210.61,299.99 L209.10,299.88 L207.60,299.77 L206.10,299.66 L204.59,299.56 L203.08,299.46 L201.58,299.37 L200.07,299.28 L198.56,299.20 L197.05,299.12 L195.54,299.04 L194.02,298.97 L192.51,298.91 L191.00,298.90" fill="none" stroke="#36ab68" stroke-width="6" stroke-linejoin="round" stroke-linecap="butt"/>
</g>

<g stroke="#000" stroke-width="3.3" fill="none"><line x1="117.2" y1="699.80" x2="124.0" y2="699.80"/>
<line x1="117.2" y1="678.28" x2="124.0" y2="678.28"/>
<line x1="117.2" y1="656.77" x2="130.7" y2="656.77"/>
<line x1="117.2" y1="635.26" x2="124.0" y2="635.26"/>
<line x1="117.2" y1="613.74" x2="124.0" y2="613.74"/>
<line x1="117.2" y1="592.23" x2="124.0" y2="592.23"/>
<line x1="117.2" y1="570.71" x2="124.0" y2="570.71"/>
<line x1="117.2" y1="549.20" x2="130.7" y2="549.20"/>
<line x1="117.2" y1="527.69" x2="124.0" y2="527.69"/>
<line x1="117.2" y1="506.17" x2="124.0" y2="506.17"/>
<line x1="117.2" y1="484.66" x2="124.0" y2="484.66"/>
<line x1="117.2" y1="463.14" x2="124.0" y2="463.14"/>
<line x1="117.2" y1="441.63" x2="130.7" y2="441.63"/>
<line x1="117.2" y1="420.12" x2="124.0" y2="420.12"/>
<line x1="117.2" y1="398.60" x2="124.0" y2="398.60"/>
<line x1="117.2" y1="377.09" x2="124.0" y2="377.09"/>
<line x1="117.2" y1="355.57" x2="124.0" y2="355.57"/>
<line x1="117.2" y1="334.06" x2="130.7" y2="334.06"/>
<line x1="117.2" y1="312.55" x2="124.0" y2="312.55"/>
<line x1="117.2" y1="291.03" x2="124.0" y2="291.03"/>
<line x1="117.2" y1="269.52" x2="124.0" y2="269.52"/>
<line x1="117.2" y1="248.00" x2="124.0" y2="248.00"/>
<line x1="117.2" y1="226.49" x2="130.7" y2="226.49"/>
<line x1="117.2" y1="204.98" x2="124.0" y2="204.98"/>
<line x1="117.2" y1="183.46" x2="124.0" y2="183.46"/>
<line x1="117.2" y1="161.95" x2="124.0" y2="161.95"/>
<line x1="117.2" y1="140.43" x2="124.0" y2="140.43"/>
<line x1="117.2" y1="118.92" x2="130.7" y2="118.92"/>
<line x1="117.2" y1="97.41" x2="124.0" y2="97.41"/>
<line x1="117.2" y1="75.89" x2="124.0" y2="75.89"/>
<line x1="117.2" y1="54.38" x2="124.0" y2="54.38"/>
<line x1="117.2" y1="32.86" x2="124.0" y2="32.86"/>
<line x1="145.10" y1="710.5" x2="145.10" y2="697.1"/>
<line x1="173.00" y1="710.5" x2="173.00" y2="703.9"/>
<line x1="200.90" y1="710.5" x2="200.90" y2="703.9"/>
<line x1="228.80" y1="710.5" x2="228.80" y2="703.9"/>
<line x1="256.70" y1="710.5" x2="256.70" y2="703.9"/>
<line x1="284.60" y1="710.5" x2="284.60" y2="697.1"/>
<line x1="312.50" y1="710.5" x2="312.50" y2="703.9"/>
<line x1="340.40" y1="710.5" x2="340.40" y2="703.9"/>
<line x1="368.30" y1="710.5" x2="368.30" y2="703.9"/>
<line x1="396.20" y1="710.5" x2="396.20" y2="703.9"/>
<line x1="424.10" y1="710.5" x2="424.10" y2="697.1"/>
<line x1="452.00" y1="710.5" x2="452.00" y2="703.9"/>
<line x1="479.90" y1="710.5" x2="479.90" y2="703.9"/>
<line x1="507.80" y1="710.5" x2="507.80" y2="703.9"/>
<line x1="535.70" y1="710.5" x2="535.70" y2="703.9"/>
<line x1="563.60" y1="710.5" x2="563.60" y2="697.1"/>
<line x1="591.50" y1="710.5" x2="591.50" y2="703.9"/>
<line x1="619.40" y1="710.5" x2="619.40" y2="703.9"/>
<line x1="647.30" y1="710.5" x2="647.30" y2="703.9"/>
<line x1="675.20" y1="710.5" x2="675.20" y2="703.9"/>
<line x1="703.10" y1="710.5" x2="703.10" y2="697.1"/>
<line x1="731.00" y1="710.5" x2="731.00" y2="703.9"/>
<line x1="758.90" y1="710.5" x2="758.90" y2="703.9"/>
<line x1="786.80" y1="710.5" x2="786.80" y2="703.9"/>
<line x1="814.70" y1="710.5" x2="814.70" y2="703.9"/>
<line x1="842.60" y1="710.5" x2="842.60" y2="697.1"/>
<line x1="870.50" y1="710.5" x2="870.50" y2="703.9"/>
<line x1="898.40" y1="710.5" x2="898.40" y2="703.9"/>
<line x1="926.30" y1="710.5" x2="926.30" y2="703.9"/>
<line x1="954.20" y1="710.5" x2="954.20" y2="703.9"/>
<rect x="117.2" y="11.3" width="865.4" height="699.2" fill="none"/></g>
<g font-family="Liberation Serif" font-weight="bold" font-size="30" fill="#000"><text transform="translate(102.5,666.37) scale(1,1.08)" text-anchor="end">-0.02</text>
<text transform="translate(102.5,558.80) scale(1,1.08)" text-anchor="end">0.00</text>
<text transform="translate(102.5,451.23) scale(1,1.08)" text-anchor="end">0.02</text>
<text transform="translate(102.5,343.66) scale(1,1.08)" text-anchor="end">0.04</text>
<text transform="translate(102.5,236.09) scale(1,1.08)" text-anchor="end">0.06</text>
<text transform="translate(102.5,128.52) scale(1,1.08)" text-anchor="end">0.08</text>
<text transform="translate(102.5,20.95) scale(1,1.08)" text-anchor="end">0.10</text>
<text transform="translate(145.10,749.4) scale(1,1.08)" text-anchor="middle">0.0</text>
<text transform="translate(284.60,749.4) scale(1,1.08)" text-anchor="middle">0.5</text>
<text transform="translate(424.10,749.4) scale(1,1.08)" text-anchor="middle">1.0</text>
<text transform="translate(563.60,749.4) scale(1,1.08)" text-anchor="middle">1.5</text>
<text transform="translate(703.10,749.4) scale(1,1.08)" text-anchor="middle">2.0</text>
<text transform="translate(842.60,749.4) scale(1,1.08)" text-anchor="middle">2.5</text>
<text transform="translate(982.10,749.4) scale(1,1.08)" text-anchor="middle">3.0</text></g>
<line x1="670.2" y1="513.4" x2="751.2" y2="513.4" stroke="#4f4f4f" stroke-width="3.2"/>
<text x="760.3" y="525.6" font-family="Liberation Serif" font-weight="bold" font-size="36">PbO<tspan font-size="26" dy="9.9">2</tspan></text>
<line x1="670.2" y1="567.4" x2="751.2" y2="567.4" stroke="#ee3c3e" stroke-width="3.2"/>
<text x="760.3" y="579.6" font-family="Liberation Serif" font-weight="bold" font-size="36">PVP-PbO<tspan font-size="26" dy="9.9">2</tspan></text>
<line x1="670.2" y1="620.8" x2="751.2" y2="620.8" stroke="#1e6bdc" stroke-width="3.2"/>
<text x="760.3" y="633.0" font-family="Liberation Serif" font-weight="bold" font-size="36">Fe-PbO<tspan font-size="26" dy="9.9">2</tspan></text>
<line x1="670.2" y1="675.2" x2="751.2" y2="675.2" stroke="#36ab68" stroke-width="3.2"/>
<text x="760.3" y="687.4" font-family="Liberation Serif" font-weight="bold" font-size="36">Fe-PVP-PbO<tspan font-size="26" dy="9.9">2</tspan></text>
<text x="550.15" y="806.2" text-anchor="middle" font-family="Liberation Serif" font-weight="bold" font-size="36.25">Potential vs SCE (V)</text><text transform="translate(25.0,360.75) rotate(-90)" text-anchor="middle" font-family="Liberation Serif" font-weight="bold" font-size="36.7">Current (A)</text>
</svg>
</body></html>
